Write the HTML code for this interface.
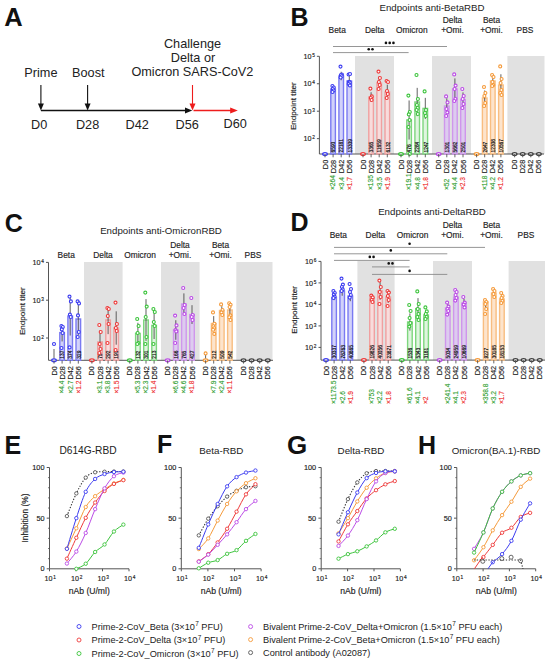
<!DOCTYPE html>
<html><head><meta charset="utf-8"><style>
html,body{margin:0;padding:0;background:#fff;}
svg{display:block;font-family:"Liberation Sans", sans-serif;}
</style></head><body>
<svg width="550" height="662" viewBox="0 0 550 662">
<rect width="550" height="662" fill="#fff"/>
<text x="4.30" y="26.20" font-size="25.5" text-anchor="start" fill="#111" font-weight="bold">A</text>
<text x="192.50" y="47.80" font-size="12.7" text-anchor="middle" fill="#222">Challenge</text>
<text x="193.00" y="61.80" font-size="12.7" text-anchor="middle" fill="#222">Delta or</text>
<text x="192.40" y="76.40" font-size="12.7" text-anchor="middle" fill="#222">Omicron SARS-CoV2</text>
<text x="40.90" y="77.30" font-size="12.7" text-anchor="middle" fill="#222">Prime</text>
<text x="88.30" y="77.30" font-size="12.7" text-anchor="middle" fill="#222">Boost</text>
<line x1="40.90" y1="85.00" x2="40.90" y2="105.50" stroke="#111" stroke-width="1.1"/>
<path d="M37.90,103.50 L43.90,103.50 L40.90,110.50 Z" fill="#111" stroke="none" stroke-width="1"/>
<line x1="87.60" y1="85.00" x2="87.60" y2="105.50" stroke="#111" stroke-width="1.1"/>
<path d="M84.60,103.50 L90.60,103.50 L87.60,110.50 Z" fill="#111" stroke="none" stroke-width="1"/>
<line x1="192.50" y1="85.00" x2="192.50" y2="105.50" stroke="#ee1c1c" stroke-width="1.1"/>
<path d="M189.50,103.50 L195.50,103.50 L192.50,110.50 Z" fill="#ee1c1c" stroke="none" stroke-width="1"/>
<line x1="40.90" y1="110.50" x2="186.00" y2="110.50" stroke="#111" stroke-width="1.7"/>
<path d="M185,107.6 L192.3,110.5 L185,113.4 Z" fill="#111" stroke="none" stroke-width="1"/>
<line x1="193.50" y1="110.50" x2="231.00" y2="110.50" stroke="#ee1c1c" stroke-width="1.7"/>
<path d="M230.2,107.6 L237.8,110.5 L230.2,113.4 Z" fill="#ee1c1c" stroke="none" stroke-width="1"/>
<text x="39.10" y="128.80" font-size="12.7" text-anchor="middle" fill="#222">D0</text>
<text x="87.60" y="128.80" font-size="12.7" text-anchor="middle" fill="#222">D28</text>
<text x="137.20" y="128.80" font-size="12.7" text-anchor="middle" fill="#222">D42</text>
<text x="187.20" y="128.80" font-size="12.7" text-anchor="middle" fill="#222">D56</text>
<text x="235.20" y="127.50" font-size="12.7" text-anchor="middle" fill="#222">D60</text>
<rect x="355.00" y="56.00" width="39.00" height="98.00" fill="#e1e1e1" stroke="none" stroke-width="0"/>
<rect x="432.00" y="56.00" width="39.00" height="98.00" fill="#e1e1e1" stroke="none" stroke-width="0"/>
<rect x="507.40" y="56.00" width="37.10" height="98.00" fill="#e1e1e1" stroke="none" stroke-width="0"/>
<line x1="333.00" y1="46.50" x2="447.00" y2="46.50" stroke="#8a8a8a" stroke-width="0.9"/>
<circle cx="385.95" cy="42.90" r="1.3" fill="#111" stroke="none" stroke-width="0"/>
<circle cx="389.70" cy="42.90" r="1.3" fill="#111" stroke="none" stroke-width="0"/>
<circle cx="393.45" cy="42.90" r="1.3" fill="#111" stroke="none" stroke-width="0"/>
<line x1="333.00" y1="52.60" x2="408.60" y2="52.60" stroke="#8a8a8a" stroke-width="0.9"/>
<circle cx="368.73" cy="49.30" r="1.3" fill="#111" stroke="none" stroke-width="0"/>
<circle cx="372.48" cy="49.30" r="1.3" fill="#111" stroke="none" stroke-width="0"/>
<line x1="319.40" y1="56.30" x2="319.40" y2="154.00" stroke="#555" stroke-width="1"/>
<line x1="319.40" y1="154.00" x2="544.00" y2="154.00" stroke="#555" stroke-width="1"/>
<ellipse cx="325.00" cy="154.00" rx="2.3" ry="1.45" fill="white" stroke="#3c3cf0" stroke-width="1.35"/>
<rect x="330.80" y="89.00" width="4.60" height="65.00" fill="#d2d2fa" stroke="#7a7af2" stroke-width="1.4"/>
<text x="335.40" y="152.40" font-size="4.8" text-anchor="start" fill="#111" transform="rotate(-90 335.40000000000003 152.4)" stroke="#111" stroke-width="0.18">6590</text>
<line x1="333.10" y1="87.00" x2="333.10" y2="91.50" stroke="#444" stroke-width="0.85"/>
<circle cx="332.40" cy="86.00" r="1.5" fill="#fff" stroke="#3c3cf0" stroke-width="1.1"/>
<circle cx="333.80" cy="87.50" r="1.5" fill="#fff" stroke="#3c3cf0" stroke-width="1.1"/>
<circle cx="332.80" cy="89.00" r="1.5" fill="#fff" stroke="#3c3cf0" stroke-width="1.1"/>
<circle cx="333.60" cy="90.50" r="1.5" fill="#fff" stroke="#3c3cf0" stroke-width="1.1"/>
<circle cx="332.50" cy="92.00" r="1.5" fill="#fff" stroke="#3c3cf0" stroke-width="1.1"/>
<rect x="338.90" y="76.00" width="4.60" height="78.00" fill="#d2d2fa" stroke="#7a7af2" stroke-width="1.4"/>
<text x="343.50" y="152.40" font-size="4.8" text-anchor="start" fill="#111" transform="rotate(-90 343.5 152.4)" stroke="#111" stroke-width="0.18">22181</text>
<line x1="341.20" y1="71.78" x2="341.20" y2="80.22" stroke="#444" stroke-width="0.85"/>
<circle cx="340.50" cy="66.60" r="1.5" fill="#fff" stroke="#3c3cf0" stroke-width="1.1"/>
<circle cx="341.90" cy="74.50" r="1.5" fill="#fff" stroke="#3c3cf0" stroke-width="1.1"/>
<circle cx="340.90" cy="75.00" r="1.5" fill="#fff" stroke="#3c3cf0" stroke-width="1.1"/>
<circle cx="341.70" cy="76.30" r="1.5" fill="#fff" stroke="#3c3cf0" stroke-width="1.1"/>
<circle cx="340.60" cy="77.50" r="1.5" fill="#fff" stroke="#3c3cf0" stroke-width="1.1"/>
<rect x="347.00" y="81.00" width="4.60" height="73.00" fill="#d2d2fa" stroke="#7a7af2" stroke-width="1.4"/>
<text x="351.60" y="152.40" font-size="4.8" text-anchor="start" fill="#111" transform="rotate(-90 351.6 152.4)" stroke="#111" stroke-width="0.18">13309</text>
<line x1="349.30" y1="76.09" x2="349.30" y2="85.91" stroke="#444" stroke-width="0.85"/>
<circle cx="348.60" cy="74.50" r="1.5" fill="#fff" stroke="#3c3cf0" stroke-width="1.1"/>
<circle cx="350.00" cy="74.00" r="1.5" fill="#fff" stroke="#3c3cf0" stroke-width="1.1"/>
<circle cx="349.00" cy="81.80" r="1.5" fill="#fff" stroke="#3c3cf0" stroke-width="1.1"/>
<circle cx="349.80" cy="82.40" r="1.5" fill="#fff" stroke="#3c3cf0" stroke-width="1.1"/>
<circle cx="348.70" cy="84.00" r="1.5" fill="#fff" stroke="#3c3cf0" stroke-width="1.1"/>
<circle cx="349.90" cy="85.40" r="1.5" fill="#fff" stroke="#3c3cf0" stroke-width="1.1"/>
<ellipse cx="363.00" cy="154.00" rx="2.3" ry="1.45" fill="white" stroke="#ee3a3a" stroke-width="1.35"/>
<rect x="368.80" y="97.00" width="4.60" height="57.00" fill="#f8dcdc" stroke="#f0a0a0" stroke-width="1.4"/>
<text x="373.40" y="152.40" font-size="4.8" text-anchor="start" fill="#111" transform="rotate(-90 373.40000000000003 152.4)" stroke="#111" stroke-width="0.18">3365</text>
<line x1="371.10" y1="92.25" x2="371.10" y2="101.75" stroke="#444" stroke-width="0.85"/>
<circle cx="370.40" cy="88.60" r="1.5" fill="#fff" stroke="#ee3a3a" stroke-width="1.1"/>
<circle cx="371.80" cy="96.40" r="1.5" fill="#fff" stroke="#ee3a3a" stroke-width="1.1"/>
<circle cx="370.80" cy="98.00" r="1.5" fill="#fff" stroke="#ee3a3a" stroke-width="1.1"/>
<circle cx="371.60" cy="100.00" r="1.5" fill="#fff" stroke="#ee3a3a" stroke-width="1.1"/>
<rect x="376.90" y="83.00" width="4.60" height="71.00" fill="#f8dcdc" stroke="#f0a0a0" stroke-width="1.4"/>
<text x="381.50" y="152.40" font-size="4.8" text-anchor="start" fill="#111" transform="rotate(-90 381.5 152.4)" stroke="#111" stroke-width="0.18">11659</text>
<line x1="379.20" y1="76.43" x2="379.20" y2="89.57" stroke="#444" stroke-width="0.85"/>
<circle cx="378.50" cy="71.60" r="1.5" fill="#fff" stroke="#ee3a3a" stroke-width="1.1"/>
<circle cx="379.90" cy="78.00" r="1.5" fill="#fff" stroke="#ee3a3a" stroke-width="1.1"/>
<circle cx="378.90" cy="82.00" r="1.5" fill="#fff" stroke="#ee3a3a" stroke-width="1.1"/>
<circle cx="379.70" cy="85.00" r="1.5" fill="#fff" stroke="#ee3a3a" stroke-width="1.1"/>
<circle cx="378.60" cy="89.00" r="1.5" fill="#fff" stroke="#ee3a3a" stroke-width="1.1"/>
<rect x="385.00" y="92.00" width="4.60" height="62.00" fill="#f8dcdc" stroke="#f0a0a0" stroke-width="1.4"/>
<text x="389.60" y="152.40" font-size="4.8" text-anchor="start" fill="#111" transform="rotate(-90 389.6 152.4)" stroke="#111" stroke-width="0.18">6132</text>
<line x1="387.30" y1="84.66" x2="387.30" y2="99.34" stroke="#444" stroke-width="0.85"/>
<circle cx="386.60" cy="81.00" r="1.5" fill="#fff" stroke="#ee3a3a" stroke-width="1.1"/>
<circle cx="388.00" cy="82.00" r="1.5" fill="#fff" stroke="#ee3a3a" stroke-width="1.1"/>
<circle cx="387.00" cy="91.00" r="1.5" fill="#fff" stroke="#ee3a3a" stroke-width="1.1"/>
<circle cx="387.80" cy="94.00" r="1.5" fill="#fff" stroke="#ee3a3a" stroke-width="1.1"/>
<circle cx="386.70" cy="98.00" r="1.5" fill="#fff" stroke="#ee3a3a" stroke-width="1.1"/>
<ellipse cx="401.00" cy="154.00" rx="2.3" ry="1.45" fill="white" stroke="#3cc43c" stroke-width="1.35"/>
<rect x="406.80" y="120.00" width="4.60" height="34.00" fill="#e0f5e0" stroke="#7ed67e" stroke-width="1.4"/>
<text x="411.40" y="152.40" font-size="4.8" text-anchor="start" fill="#111" transform="rotate(-90 411.40000000000003 152.4)" stroke="#111" stroke-width="0.18">476</text>
<line x1="409.10" y1="100.46" x2="409.10" y2="139.54" stroke="#444" stroke-width="0.85"/>
<circle cx="408.40" cy="95.60" r="1.5" fill="#fff" stroke="#3cc43c" stroke-width="1.1"/>
<circle cx="409.80" cy="112.00" r="1.5" fill="#fff" stroke="#3cc43c" stroke-width="1.1"/>
<circle cx="408.80" cy="114.40" r="1.5" fill="#fff" stroke="#3cc43c" stroke-width="1.1"/>
<circle cx="409.60" cy="120.00" r="1.5" fill="#fff" stroke="#3cc43c" stroke-width="1.1"/>
<circle cx="408.50" cy="127.00" r="1.5" fill="#fff" stroke="#3cc43c" stroke-width="1.1"/>
<circle cx="409.70" cy="154.00" r="1.5" fill="#fff" stroke="#3cc43c" stroke-width="1.1"/>
<rect x="414.90" y="102.00" width="4.60" height="52.00" fill="#e0f5e0" stroke="#7ed67e" stroke-width="1.4"/>
<text x="419.50" y="152.40" font-size="4.8" text-anchor="start" fill="#111" transform="rotate(-90 419.5 152.4)" stroke="#111" stroke-width="0.18">2284</text>
<line x1="417.20" y1="87.86" x2="417.20" y2="116.14" stroke="#444" stroke-width="0.85"/>
<circle cx="416.50" cy="75.00" r="1.5" fill="#fff" stroke="#3cc43c" stroke-width="1.1"/>
<circle cx="417.90" cy="99.00" r="1.5" fill="#fff" stroke="#3cc43c" stroke-width="1.1"/>
<circle cx="416.90" cy="105.00" r="1.5" fill="#fff" stroke="#3cc43c" stroke-width="1.1"/>
<circle cx="417.70" cy="108.00" r="1.5" fill="#fff" stroke="#3cc43c" stroke-width="1.1"/>
<circle cx="416.60" cy="110.00" r="1.5" fill="#fff" stroke="#3cc43c" stroke-width="1.1"/>
<circle cx="417.80" cy="114.00" r="1.5" fill="#fff" stroke="#3cc43c" stroke-width="1.1"/>
<rect x="423.00" y="108.40" width="4.60" height="45.60" fill="#e0f5e0" stroke="#7ed67e" stroke-width="1.4"/>
<text x="427.60" y="152.40" font-size="4.8" text-anchor="start" fill="#111" transform="rotate(-90 427.6 152.4)" stroke="#111" stroke-width="0.18">1247</text>
<line x1="425.30" y1="97.85" x2="425.30" y2="118.95" stroke="#444" stroke-width="0.85"/>
<circle cx="424.60" cy="91.40" r="1.5" fill="#fff" stroke="#3cc43c" stroke-width="1.1"/>
<circle cx="426.00" cy="110.00" r="1.5" fill="#fff" stroke="#3cc43c" stroke-width="1.1"/>
<circle cx="425.00" cy="113.00" r="1.5" fill="#fff" stroke="#3cc43c" stroke-width="1.1"/>
<circle cx="425.80" cy="116.00" r="1.5" fill="#fff" stroke="#3cc43c" stroke-width="1.1"/>
<ellipse cx="438.70" cy="154.00" rx="2.3" ry="1.45" fill="white" stroke="#bb4be6" stroke-width="1.35"/>
<rect x="444.50" y="106.00" width="4.60" height="48.00" fill="#ddcbef" stroke="#cf96ec" stroke-width="1.4"/>
<text x="449.10" y="152.40" font-size="4.8" text-anchor="start" fill="#111" transform="rotate(-90 449.1 152.4)" stroke="#111" stroke-width="0.18">1301</text>
<line x1="446.80" y1="98.26" x2="446.80" y2="113.74" stroke="#444" stroke-width="0.85"/>
<circle cx="446.10" cy="96.40" r="1.5" fill="#fff" stroke="#bb4be6" stroke-width="1.1"/>
<circle cx="447.50" cy="102.40" r="1.5" fill="#fff" stroke="#bb4be6" stroke-width="1.1"/>
<circle cx="446.50" cy="109.00" r="1.5" fill="#fff" stroke="#bb4be6" stroke-width="1.1"/>
<circle cx="447.30" cy="112.40" r="1.5" fill="#fff" stroke="#bb4be6" stroke-width="1.1"/>
<circle cx="446.20" cy="116.00" r="1.5" fill="#fff" stroke="#bb4be6" stroke-width="1.1"/>
<rect x="452.60" y="89.00" width="4.60" height="65.00" fill="#ddcbef" stroke="#cf96ec" stroke-width="1.4"/>
<text x="457.20" y="152.40" font-size="4.8" text-anchor="start" fill="#111" transform="rotate(-90 457.2 152.4)" stroke="#111" stroke-width="0.18">5662</text>
<line x1="454.90" y1="78.39" x2="454.90" y2="99.61" stroke="#444" stroke-width="0.85"/>
<circle cx="454.20" cy="74.40" r="1.5" fill="#fff" stroke="#bb4be6" stroke-width="1.1"/>
<circle cx="455.60" cy="85.60" r="1.5" fill="#fff" stroke="#bb4be6" stroke-width="1.1"/>
<circle cx="454.60" cy="89.00" r="1.5" fill="#fff" stroke="#bb4be6" stroke-width="1.1"/>
<circle cx="455.40" cy="99.00" r="1.5" fill="#fff" stroke="#bb4be6" stroke-width="1.1"/>
<circle cx="454.30" cy="101.00" r="1.5" fill="#fff" stroke="#bb4be6" stroke-width="1.1"/>
<rect x="460.70" y="99.60" width="4.60" height="54.40" fill="#ddcbef" stroke="#cf96ec" stroke-width="1.4"/>
<text x="465.30" y="152.40" font-size="4.8" text-anchor="start" fill="#111" transform="rotate(-90 465.3 152.4)" stroke="#111" stroke-width="0.18">2501</text>
<line x1="463.00" y1="92.39" x2="463.00" y2="106.81" stroke="#444" stroke-width="0.85"/>
<circle cx="462.30" cy="89.00" r="1.5" fill="#fff" stroke="#bb4be6" stroke-width="1.1"/>
<circle cx="463.70" cy="96.00" r="1.5" fill="#fff" stroke="#bb4be6" stroke-width="1.1"/>
<circle cx="462.70" cy="99.00" r="1.5" fill="#fff" stroke="#bb4be6" stroke-width="1.1"/>
<circle cx="463.50" cy="104.00" r="1.5" fill="#fff" stroke="#bb4be6" stroke-width="1.1"/>
<circle cx="462.40" cy="108.00" r="1.5" fill="#fff" stroke="#bb4be6" stroke-width="1.1"/>
<ellipse cx="476.60" cy="154.00" rx="2.3" ry="1.45" fill="white" stroke="#f59a3a" stroke-width="1.35"/>
<rect x="482.40" y="98.00" width="4.60" height="56.00" fill="#fde4cc" stroke="#f8bd80" stroke-width="1.4"/>
<text x="487.00" y="152.40" font-size="4.8" text-anchor="start" fill="#111" transform="rotate(-90 487.00000000000006 152.4)" stroke="#111" stroke-width="0.18">2647</text>
<line x1="484.70" y1="90.47" x2="484.70" y2="105.53" stroke="#444" stroke-width="0.85"/>
<circle cx="484.00" cy="87.00" r="1.5" fill="#fff" stroke="#f59a3a" stroke-width="1.1"/>
<circle cx="485.40" cy="93.00" r="1.5" fill="#fff" stroke="#f59a3a" stroke-width="1.1"/>
<circle cx="484.40" cy="96.00" r="1.5" fill="#fff" stroke="#f59a3a" stroke-width="1.1"/>
<circle cx="485.20" cy="103.00" r="1.5" fill="#fff" stroke="#f59a3a" stroke-width="1.1"/>
<circle cx="484.10" cy="106.00" r="1.5" fill="#fff" stroke="#f59a3a" stroke-width="1.1"/>
<rect x="490.50" y="81.00" width="4.60" height="73.00" fill="#fde4cc" stroke="#f8bd80" stroke-width="1.4"/>
<text x="495.10" y="152.40" font-size="4.8" text-anchor="start" fill="#111" transform="rotate(-90 495.1 152.4)" stroke="#111" stroke-width="0.18">12308</text>
<line x1="492.80" y1="76.23" x2="492.80" y2="85.77" stroke="#444" stroke-width="0.85"/>
<circle cx="492.10" cy="75.00" r="1.5" fill="#fff" stroke="#f59a3a" stroke-width="1.1"/>
<circle cx="493.50" cy="77.00" r="1.5" fill="#fff" stroke="#f59a3a" stroke-width="1.1"/>
<circle cx="492.50" cy="82.00" r="1.5" fill="#fff" stroke="#f59a3a" stroke-width="1.1"/>
<circle cx="493.30" cy="85.00" r="1.5" fill="#fff" stroke="#f59a3a" stroke-width="1.1"/>
<circle cx="492.20" cy="86.00" r="1.5" fill="#fff" stroke="#f59a3a" stroke-width="1.1"/>
<rect x="498.60" y="85.00" width="4.60" height="69.00" fill="#fde4cc" stroke="#f8bd80" stroke-width="1.4"/>
<text x="503.20" y="152.40" font-size="4.8" text-anchor="start" fill="#111" transform="rotate(-90 503.20000000000005 152.4)" stroke="#111" stroke-width="0.18">10567</text>
<line x1="500.90" y1="74.25" x2="500.90" y2="95.75" stroke="#444" stroke-width="0.85"/>
<circle cx="500.20" cy="66.40" r="1.5" fill="#fff" stroke="#f59a3a" stroke-width="1.1"/>
<circle cx="501.60" cy="79.00" r="1.5" fill="#fff" stroke="#f59a3a" stroke-width="1.1"/>
<circle cx="500.60" cy="83.00" r="1.5" fill="#fff" stroke="#f59a3a" stroke-width="1.1"/>
<circle cx="501.40" cy="90.00" r="1.5" fill="#fff" stroke="#f59a3a" stroke-width="1.1"/>
<circle cx="500.30" cy="93.00" r="1.5" fill="#fff" stroke="#f59a3a" stroke-width="1.1"/>
<circle cx="501.50" cy="95.00" r="1.5" fill="#fff" stroke="#f59a3a" stroke-width="1.1"/>
<ellipse cx="514.60" cy="154.00" rx="2.3" ry="1.45" fill="white" stroke="#404040" stroke-width="1.35"/>
<rect x="520.40" y="154.00" width="4.60" height="0.00" fill="#dddddd" stroke="#777" stroke-width="1.4"/>
<ellipse cx="522.70" cy="154.00" rx="2.3" ry="1.45" fill="white" stroke="#404040" stroke-width="1.35"/>
<rect x="528.50" y="154.00" width="4.60" height="0.00" fill="#dddddd" stroke="#777" stroke-width="1.4"/>
<ellipse cx="530.80" cy="154.00" rx="2.3" ry="1.45" fill="white" stroke="#404040" stroke-width="1.35"/>
<rect x="536.60" y="154.00" width="4.60" height="0.00" fill="#dddddd" stroke="#777" stroke-width="1.4"/>
<ellipse cx="538.90" cy="154.00" rx="2.3" ry="1.45" fill="white" stroke="#404040" stroke-width="1.35"/>
<line x1="316.90" y1="56.30" x2="319.40" y2="56.30" stroke="#555" stroke-width="1"/>
<text x="314.80" y="58.90" font-size="7.2" text-anchor="end" fill="#222" stroke="#222" stroke-width="0.15">10<tspan font-size="4.75" dx="0.72" dy="-1.87">5</tspan></text>
<line x1="316.90" y1="83.75" x2="319.40" y2="83.75" stroke="#555" stroke-width="1"/>
<text x="314.80" y="86.35" font-size="7.2" text-anchor="end" fill="#222" stroke="#222" stroke-width="0.15">10<tspan font-size="4.75" dx="0.72" dy="-1.87">4</tspan></text>
<line x1="316.90" y1="111.20" x2="319.40" y2="111.20" stroke="#555" stroke-width="1"/>
<text x="314.80" y="113.80" font-size="7.2" text-anchor="end" fill="#222" stroke="#222" stroke-width="0.15">10<tspan font-size="4.75" dx="0.72" dy="-1.87">3</tspan></text>
<line x1="316.90" y1="138.65" x2="319.40" y2="138.65" stroke="#555" stroke-width="1"/>
<text x="314.80" y="141.25" font-size="7.2" text-anchor="end" fill="#222" stroke="#222" stroke-width="0.15">10<tspan font-size="4.75" dx="0.72" dy="-1.87">2</tspan></text>
<line x1="325.00" y1="154.00" x2="325.00" y2="157.30" stroke="#555" stroke-width="0.9"/>
<text x="327.60" y="159.80" font-size="7.3" text-anchor="end" fill="#222" transform="rotate(-90 327.6 159.8)" stroke="#222" stroke-width="0.15">D0</text>
<line x1="333.10" y1="154.00" x2="333.10" y2="157.30" stroke="#555" stroke-width="0.9"/>
<text x="335.70" y="159.80" font-size="7.3" text-anchor="end" fill="#222" transform="rotate(-90 335.70000000000005 159.8)" stroke="#222" stroke-width="0.15">D28</text>
<line x1="341.20" y1="154.00" x2="341.20" y2="157.30" stroke="#555" stroke-width="0.9"/>
<text x="343.80" y="159.80" font-size="7.3" text-anchor="end" fill="#222" transform="rotate(-90 343.8 159.8)" stroke="#222" stroke-width="0.15">D42</text>
<line x1="349.30" y1="154.00" x2="349.30" y2="157.30" stroke="#555" stroke-width="0.9"/>
<text x="351.90" y="159.80" font-size="7.3" text-anchor="end" fill="#222" transform="rotate(-90 351.90000000000003 159.8)" stroke="#222" stroke-width="0.15">D56</text>
<text x="335.40" y="190.00" font-size="6.6" text-anchor="start" fill="#2f9e2f" transform="rotate(-90 335.40000000000003 190)" stroke="#2f9e2f" stroke-width="0.15">×264</text>
<text x="343.50" y="190.00" font-size="6.6" text-anchor="start" fill="#2f9e2f" transform="rotate(-90 343.5 190)" stroke="#2f9e2f" stroke-width="0.15">×3.4</text>
<text x="351.60" y="190.00" font-size="6.6" text-anchor="start" fill="#ee2b2b" transform="rotate(-90 351.6 190)" stroke="#ee2b2b" stroke-width="0.15">×1.7</text>
<line x1="363.00" y1="154.00" x2="363.00" y2="157.30" stroke="#555" stroke-width="0.9"/>
<text x="365.60" y="159.80" font-size="7.3" text-anchor="end" fill="#222" transform="rotate(-90 365.6 159.8)" stroke="#222" stroke-width="0.15">D0</text>
<line x1="371.10" y1="154.00" x2="371.10" y2="157.30" stroke="#555" stroke-width="0.9"/>
<text x="373.70" y="159.80" font-size="7.3" text-anchor="end" fill="#222" transform="rotate(-90 373.70000000000005 159.8)" stroke="#222" stroke-width="0.15">D28</text>
<line x1="379.20" y1="154.00" x2="379.20" y2="157.30" stroke="#555" stroke-width="0.9"/>
<text x="381.80" y="159.80" font-size="7.3" text-anchor="end" fill="#222" transform="rotate(-90 381.8 159.8)" stroke="#222" stroke-width="0.15">D42</text>
<line x1="387.30" y1="154.00" x2="387.30" y2="157.30" stroke="#555" stroke-width="0.9"/>
<text x="389.90" y="159.80" font-size="7.3" text-anchor="end" fill="#222" transform="rotate(-90 389.90000000000003 159.8)" stroke="#222" stroke-width="0.15">D56</text>
<text x="373.40" y="190.00" font-size="6.6" text-anchor="start" fill="#2f9e2f" transform="rotate(-90 373.40000000000003 190)" stroke="#2f9e2f" stroke-width="0.15">×135</text>
<text x="381.50" y="190.00" font-size="6.6" text-anchor="start" fill="#2f9e2f" transform="rotate(-90 381.5 190)" stroke="#2f9e2f" stroke-width="0.15">×3.5</text>
<text x="389.60" y="190.00" font-size="6.6" text-anchor="start" fill="#ee2b2b" transform="rotate(-90 389.6 190)" stroke="#ee2b2b" stroke-width="0.15">×1.9</text>
<line x1="401.00" y1="154.00" x2="401.00" y2="157.30" stroke="#555" stroke-width="0.9"/>
<text x="403.60" y="159.80" font-size="7.3" text-anchor="end" fill="#222" transform="rotate(-90 403.6 159.8)" stroke="#222" stroke-width="0.15">D0</text>
<line x1="409.10" y1="154.00" x2="409.10" y2="157.30" stroke="#555" stroke-width="0.9"/>
<text x="411.70" y="159.80" font-size="7.3" text-anchor="end" fill="#222" transform="rotate(-90 411.70000000000005 159.8)" stroke="#222" stroke-width="0.15">D28</text>
<line x1="417.20" y1="154.00" x2="417.20" y2="157.30" stroke="#555" stroke-width="0.9"/>
<text x="419.80" y="159.80" font-size="7.3" text-anchor="end" fill="#222" transform="rotate(-90 419.8 159.8)" stroke="#222" stroke-width="0.15">D42</text>
<line x1="425.30" y1="154.00" x2="425.30" y2="157.30" stroke="#555" stroke-width="0.9"/>
<text x="427.90" y="159.80" font-size="7.3" text-anchor="end" fill="#222" transform="rotate(-90 427.90000000000003 159.8)" stroke="#222" stroke-width="0.15">D56</text>
<text x="411.40" y="190.00" font-size="6.6" text-anchor="start" fill="#2f9e2f" transform="rotate(-90 411.40000000000003 190)" stroke="#2f9e2f" stroke-width="0.15">×19.1</text>
<text x="419.50" y="190.00" font-size="6.6" text-anchor="start" fill="#2f9e2f" transform="rotate(-90 419.5 190)" stroke="#2f9e2f" stroke-width="0.15">×4.8</text>
<text x="427.60" y="190.00" font-size="6.6" text-anchor="start" fill="#ee2b2b" transform="rotate(-90 427.6 190)" stroke="#ee2b2b" stroke-width="0.15">×1.8</text>
<line x1="438.70" y1="154.00" x2="438.70" y2="157.30" stroke="#555" stroke-width="0.9"/>
<text x="441.30" y="159.80" font-size="7.3" text-anchor="end" fill="#222" transform="rotate(-90 441.3 159.8)" stroke="#222" stroke-width="0.15">D0</text>
<line x1="446.80" y1="154.00" x2="446.80" y2="157.30" stroke="#555" stroke-width="0.9"/>
<text x="449.40" y="159.80" font-size="7.3" text-anchor="end" fill="#222" transform="rotate(-90 449.40000000000003 159.8)" stroke="#222" stroke-width="0.15">D28</text>
<line x1="454.90" y1="154.00" x2="454.90" y2="157.30" stroke="#555" stroke-width="0.9"/>
<text x="457.50" y="159.80" font-size="7.3" text-anchor="end" fill="#222" transform="rotate(-90 457.5 159.8)" stroke="#222" stroke-width="0.15">D42</text>
<line x1="463.00" y1="154.00" x2="463.00" y2="157.30" stroke="#555" stroke-width="0.9"/>
<text x="465.60" y="159.80" font-size="7.3" text-anchor="end" fill="#222" transform="rotate(-90 465.6 159.8)" stroke="#222" stroke-width="0.15">D56</text>
<text x="449.10" y="190.00" font-size="6.6" text-anchor="start" fill="#2f9e2f" transform="rotate(-90 449.1 190)" stroke="#2f9e2f" stroke-width="0.15">×52</text>
<text x="457.20" y="190.00" font-size="6.6" text-anchor="start" fill="#2f9e2f" transform="rotate(-90 457.2 190)" stroke="#2f9e2f" stroke-width="0.15">×4.4</text>
<text x="465.30" y="190.00" font-size="6.6" text-anchor="start" fill="#ee2b2b" transform="rotate(-90 465.3 190)" stroke="#ee2b2b" stroke-width="0.15">×2.3</text>
<line x1="476.60" y1="154.00" x2="476.60" y2="157.30" stroke="#555" stroke-width="0.9"/>
<text x="479.20" y="159.80" font-size="7.3" text-anchor="end" fill="#222" transform="rotate(-90 479.20000000000005 159.8)" stroke="#222" stroke-width="0.15">D0</text>
<line x1="484.70" y1="154.00" x2="484.70" y2="157.30" stroke="#555" stroke-width="0.9"/>
<text x="487.30" y="159.80" font-size="7.3" text-anchor="end" fill="#222" transform="rotate(-90 487.30000000000007 159.8)" stroke="#222" stroke-width="0.15">D28</text>
<line x1="492.80" y1="154.00" x2="492.80" y2="157.30" stroke="#555" stroke-width="0.9"/>
<text x="495.40" y="159.80" font-size="7.3" text-anchor="end" fill="#222" transform="rotate(-90 495.40000000000003 159.8)" stroke="#222" stroke-width="0.15">D42</text>
<line x1="500.90" y1="154.00" x2="500.90" y2="157.30" stroke="#555" stroke-width="0.9"/>
<text x="503.50" y="159.80" font-size="7.3" text-anchor="end" fill="#222" transform="rotate(-90 503.50000000000006 159.8)" stroke="#222" stroke-width="0.15">D56</text>
<text x="487.00" y="190.00" font-size="6.6" text-anchor="start" fill="#2f9e2f" transform="rotate(-90 487.00000000000006 190)" stroke="#2f9e2f" stroke-width="0.15">×118</text>
<text x="495.10" y="190.00" font-size="6.6" text-anchor="start" fill="#2f9e2f" transform="rotate(-90 495.1 190)" stroke="#2f9e2f" stroke-width="0.15">×4.2</text>
<text x="503.20" y="190.00" font-size="6.6" text-anchor="start" fill="#ee2b2b" transform="rotate(-90 503.20000000000005 190)" stroke="#ee2b2b" stroke-width="0.15">×1.2</text>
<line x1="514.60" y1="154.00" x2="514.60" y2="157.30" stroke="#555" stroke-width="0.9"/>
<text x="517.20" y="159.80" font-size="7.3" text-anchor="end" fill="#222" transform="rotate(-90 517.2 159.8)" stroke="#222" stroke-width="0.15">D0</text>
<line x1="522.70" y1="154.00" x2="522.70" y2="157.30" stroke="#555" stroke-width="0.9"/>
<text x="525.30" y="159.80" font-size="7.3" text-anchor="end" fill="#222" transform="rotate(-90 525.3000000000001 159.8)" stroke="#222" stroke-width="0.15">D28</text>
<line x1="530.80" y1="154.00" x2="530.80" y2="157.30" stroke="#555" stroke-width="0.9"/>
<text x="533.40" y="159.80" font-size="7.3" text-anchor="end" fill="#222" transform="rotate(-90 533.4000000000001 159.8)" stroke="#222" stroke-width="0.15">D42</text>
<line x1="538.90" y1="154.00" x2="538.90" y2="157.30" stroke="#555" stroke-width="0.9"/>
<text x="541.50" y="159.80" font-size="7.3" text-anchor="end" fill="#222" transform="rotate(-90 541.5 159.8)" stroke="#222" stroke-width="0.15">D56</text>
<text x="337.20" y="33.20" font-size="8.4" text-anchor="middle" fill="#222" stroke="#222" stroke-width="0.15">Beta</text>
<text x="374.70" y="33.20" font-size="8.4" text-anchor="middle" fill="#222" stroke="#222" stroke-width="0.15">Delta</text>
<text x="411.80" y="33.20" font-size="8.4" text-anchor="middle" fill="#222" stroke="#222" stroke-width="0.15">Omicron</text>
<text x="452.50" y="23.00" font-size="8.4" text-anchor="middle" fill="#222" stroke="#222" stroke-width="0.15">Delta</text>
<text x="452.50" y="32.80" font-size="8.4" text-anchor="middle" fill="#222" stroke="#222" stroke-width="0.15">+Omi.</text>
<text x="491.50" y="23.00" font-size="8.4" text-anchor="middle" fill="#222" stroke="#222" stroke-width="0.15">Beta</text>
<text x="491.50" y="32.80" font-size="8.4" text-anchor="middle" fill="#222" stroke="#222" stroke-width="0.15">+Omi.</text>
<text x="525.00" y="33.20" font-size="8.4" text-anchor="middle" fill="#222" stroke="#222" stroke-width="0.15">PBS</text>
<text x="432.00" y="11.40" font-size="9.7" text-anchor="middle" fill="#222">Endpoints anti-BetaRBD</text>
<text x="290.50" y="26.20" font-size="25" text-anchor="start" fill="#111" font-weight="bold">B</text>
<text x="296.20" y="106.20" font-size="8.1" text-anchor="middle" fill="#222" transform="rotate(-90 296.2 106.2)" stroke="#222" stroke-width="0.15">Endpoint titer</text>
<rect x="84.00" y="262.00" width="38.60" height="98.30" fill="#e1e1e1" stroke="none" stroke-width="0"/>
<rect x="161.00" y="262.00" width="38.60" height="98.30" fill="#e1e1e1" stroke="none" stroke-width="0"/>
<rect x="236.30" y="262.00" width="36.20" height="98.30" fill="#e1e1e1" stroke="none" stroke-width="0"/>
<line x1="48.50" y1="262.40" x2="48.50" y2="360.30" stroke="#555" stroke-width="1"/>
<line x1="48.50" y1="360.30" x2="273.00" y2="360.30" stroke="#555" stroke-width="1"/>
<line x1="54.00" y1="349.00" x2="54.00" y2="360.30" stroke="#444" stroke-width="0.85"/>
<ellipse cx="54.00" cy="360.30" rx="2.3" ry="1.45" fill="white" stroke="#3c3cf0" stroke-width="1.35"/>
<circle cx="54.00" cy="344.00" r="1.5" fill="#fff" stroke="#3c3cf0" stroke-width="1.1"/>
<rect x="59.80" y="332.60" width="4.60" height="27.70" fill="#d2d2fa" stroke="#7a7af2" stroke-width="1.4"/>
<text x="64.40" y="358.70" font-size="4.8" text-anchor="start" fill="#111" transform="rotate(-90 64.4 358.7)" stroke="#111" stroke-width="0.18">137</text>
<line x1="62.10" y1="327.00" x2="62.10" y2="341.43" stroke="#444" stroke-width="0.85"/>
<circle cx="61.40" cy="326.00" r="1.5" fill="#fff" stroke="#3c3cf0" stroke-width="1.1"/>
<circle cx="62.80" cy="327.00" r="1.5" fill="#fff" stroke="#3c3cf0" stroke-width="1.1"/>
<circle cx="61.80" cy="329.40" r="1.5" fill="#fff" stroke="#3c3cf0" stroke-width="1.1"/>
<circle cx="62.60" cy="333.00" r="1.5" fill="#fff" stroke="#3c3cf0" stroke-width="1.1"/>
<circle cx="61.50" cy="348.00" r="1.5" fill="#fff" stroke="#3c3cf0" stroke-width="1.1"/>
<rect x="67.90" y="316.00" width="4.60" height="44.30" fill="#d2d2fa" stroke="#7a7af2" stroke-width="1.4"/>
<text x="72.50" y="358.70" font-size="4.8" text-anchor="start" fill="#111" transform="rotate(-90 72.5 358.7)" stroke="#111" stroke-width="0.18">374</text>
<line x1="70.20" y1="297.60" x2="70.20" y2="335.53" stroke="#444" stroke-width="0.85"/>
<circle cx="69.50" cy="296.60" r="1.5" fill="#fff" stroke="#3c3cf0" stroke-width="1.1"/>
<circle cx="70.90" cy="301.40" r="1.5" fill="#fff" stroke="#3c3cf0" stroke-width="1.1"/>
<circle cx="69.90" cy="314.60" r="1.5" fill="#fff" stroke="#3c3cf0" stroke-width="1.1"/>
<circle cx="70.70" cy="317.00" r="1.5" fill="#fff" stroke="#3c3cf0" stroke-width="1.1"/>
<circle cx="69.60" cy="347.40" r="1.5" fill="#fff" stroke="#3c3cf0" stroke-width="1.1"/>
<rect x="76.00" y="319.00" width="4.60" height="41.30" fill="#d2d2fa" stroke="#7a7af2" stroke-width="1.4"/>
<text x="80.60" y="358.70" font-size="4.8" text-anchor="start" fill="#111" transform="rotate(-90 80.6 358.7)" stroke="#111" stroke-width="0.18">329</text>
<line x1="78.30" y1="303.04" x2="78.30" y2="334.96" stroke="#444" stroke-width="0.85"/>
<circle cx="77.60" cy="301.40" r="1.5" fill="#fff" stroke="#3c3cf0" stroke-width="1.1"/>
<circle cx="79.00" cy="303.40" r="1.5" fill="#fff" stroke="#3c3cf0" stroke-width="1.1"/>
<circle cx="78.00" cy="315.40" r="1.5" fill="#fff" stroke="#3c3cf0" stroke-width="1.1"/>
<circle cx="78.80" cy="332.00" r="1.5" fill="#fff" stroke="#3c3cf0" stroke-width="1.1"/>
<circle cx="77.70" cy="337.00" r="1.5" fill="#fff" stroke="#3c3cf0" stroke-width="1.1"/>
<ellipse cx="91.90" cy="360.30" rx="2.3" ry="1.45" fill="white" stroke="#ee3a3a" stroke-width="1.35"/>
<rect x="97.70" y="342.00" width="4.60" height="18.30" fill="#f8dcdc" stroke="#f0a0a0" stroke-width="1.4"/>
<text x="102.30" y="358.70" font-size="4.8" text-anchor="start" fill="#111" transform="rotate(-90 102.3 358.7)" stroke="#111" stroke-width="0.18">79</text>
<line x1="100.00" y1="330.43" x2="100.00" y2="353.57" stroke="#444" stroke-width="0.85"/>
<circle cx="99.30" cy="325.00" r="1.5" fill="#fff" stroke="#ee3a3a" stroke-width="1.1"/>
<circle cx="100.70" cy="332.00" r="1.5" fill="#fff" stroke="#ee3a3a" stroke-width="1.1"/>
<circle cx="99.70" cy="344.00" r="1.5" fill="#fff" stroke="#ee3a3a" stroke-width="1.1"/>
<circle cx="100.50" cy="349.00" r="1.5" fill="#fff" stroke="#ee3a3a" stroke-width="1.1"/>
<circle cx="99.40" cy="353.00" r="1.5" fill="#fff" stroke="#ee3a3a" stroke-width="1.1"/>
<rect x="105.80" y="320.00" width="4.60" height="40.30" fill="#f8dcdc" stroke="#f0a0a0" stroke-width="1.4"/>
<text x="110.40" y="358.70" font-size="4.8" text-anchor="start" fill="#111" transform="rotate(-90 110.4 358.7)" stroke="#111" stroke-width="0.18">292</text>
<line x1="108.10" y1="309.00" x2="108.10" y2="334.14" stroke="#444" stroke-width="0.85"/>
<circle cx="107.40" cy="308.00" r="1.5" fill="#fff" stroke="#ee3a3a" stroke-width="1.1"/>
<circle cx="108.80" cy="309.00" r="1.5" fill="#fff" stroke="#ee3a3a" stroke-width="1.1"/>
<circle cx="107.80" cy="316.00" r="1.5" fill="#fff" stroke="#ee3a3a" stroke-width="1.1"/>
<circle cx="108.60" cy="324.00" r="1.5" fill="#fff" stroke="#ee3a3a" stroke-width="1.1"/>
<circle cx="107.50" cy="343.00" r="1.5" fill="#fff" stroke="#ee3a3a" stroke-width="1.1"/>
<rect x="113.90" y="328.00" width="4.60" height="32.30" fill="#f8dcdc" stroke="#f0a0a0" stroke-width="1.4"/>
<text x="118.50" y="358.70" font-size="4.8" text-anchor="start" fill="#111" transform="rotate(-90 118.5 358.7)" stroke="#111" stroke-width="0.18">190</text>
<line x1="116.20" y1="311.32" x2="116.20" y2="344.68" stroke="#444" stroke-width="0.85"/>
<circle cx="115.50" cy="302.60" r="1.5" fill="#fff" stroke="#ee3a3a" stroke-width="1.1"/>
<circle cx="116.90" cy="324.00" r="1.5" fill="#fff" stroke="#ee3a3a" stroke-width="1.1"/>
<circle cx="115.90" cy="328.00" r="1.5" fill="#fff" stroke="#ee3a3a" stroke-width="1.1"/>
<circle cx="116.70" cy="331.00" r="1.5" fill="#fff" stroke="#ee3a3a" stroke-width="1.1"/>
<circle cx="115.60" cy="350.00" r="1.5" fill="#fff" stroke="#ee3a3a" stroke-width="1.1"/>
<ellipse cx="129.80" cy="360.30" rx="2.3" ry="1.45" fill="white" stroke="#3cc43c" stroke-width="1.35"/>
<rect x="135.60" y="333.40" width="4.60" height="26.90" fill="#e0f5e0" stroke="#7ed67e" stroke-width="1.4"/>
<text x="140.20" y="358.70" font-size="4.8" text-anchor="start" fill="#111" transform="rotate(-90 140.20000000000002 358.7)" stroke="#111" stroke-width="0.18">132</text>
<line x1="137.90" y1="322.78" x2="137.90" y2="344.02" stroke="#444" stroke-width="0.85"/>
<circle cx="137.20" cy="319.00" r="1.5" fill="#fff" stroke="#3cc43c" stroke-width="1.1"/>
<circle cx="138.60" cy="326.00" r="1.5" fill="#fff" stroke="#3cc43c" stroke-width="1.1"/>
<circle cx="137.60" cy="333.00" r="1.5" fill="#fff" stroke="#3cc43c" stroke-width="1.1"/>
<circle cx="138.40" cy="343.00" r="1.5" fill="#fff" stroke="#3cc43c" stroke-width="1.1"/>
<circle cx="137.30" cy="344.00" r="1.5" fill="#fff" stroke="#3cc43c" stroke-width="1.1"/>
<rect x="143.70" y="320.00" width="4.60" height="40.30" fill="#e0f5e0" stroke="#7ed67e" stroke-width="1.4"/>
<text x="148.30" y="358.70" font-size="4.8" text-anchor="start" fill="#111" transform="rotate(-90 148.3 358.7)" stroke="#111" stroke-width="0.18">301</text>
<line x1="146.00" y1="299.11" x2="146.00" y2="340.89" stroke="#444" stroke-width="0.85"/>
<circle cx="145.30" cy="292.60" r="1.5" fill="#fff" stroke="#3cc43c" stroke-width="1.1"/>
<circle cx="146.70" cy="306.60" r="1.5" fill="#fff" stroke="#3cc43c" stroke-width="1.1"/>
<circle cx="145.70" cy="317.00" r="1.5" fill="#fff" stroke="#3cc43c" stroke-width="1.1"/>
<circle cx="146.50" cy="337.00" r="1.5" fill="#fff" stroke="#3cc43c" stroke-width="1.1"/>
<circle cx="145.40" cy="344.00" r="1.5" fill="#fff" stroke="#3cc43c" stroke-width="1.1"/>
<rect x="151.80" y="325.40" width="4.60" height="34.90" fill="#e0f5e0" stroke="#7ed67e" stroke-width="1.4"/>
<text x="156.40" y="358.70" font-size="4.8" text-anchor="start" fill="#111" transform="rotate(-90 156.40000000000003 358.7)" stroke="#111" stroke-width="0.18">213</text>
<line x1="154.10" y1="311.77" x2="154.10" y2="339.03" stroke="#444" stroke-width="0.85"/>
<circle cx="153.40" cy="309.00" r="1.5" fill="#fff" stroke="#3cc43c" stroke-width="1.1"/>
<circle cx="154.80" cy="312.00" r="1.5" fill="#fff" stroke="#3cc43c" stroke-width="1.1"/>
<circle cx="153.80" cy="322.00" r="1.5" fill="#fff" stroke="#3cc43c" stroke-width="1.1"/>
<circle cx="154.60" cy="326.00" r="1.5" fill="#fff" stroke="#3cc43c" stroke-width="1.1"/>
<circle cx="153.50" cy="344.00" r="1.5" fill="#fff" stroke="#3cc43c" stroke-width="1.1"/>
<ellipse cx="167.70" cy="360.30" rx="2.3" ry="1.45" fill="white" stroke="#bb4be6" stroke-width="1.35"/>
<rect x="173.50" y="330.00" width="4.60" height="30.30" fill="#ddcbef" stroke="#cf96ec" stroke-width="1.4"/>
<text x="178.10" y="358.70" font-size="4.8" text-anchor="start" fill="#111" transform="rotate(-90 178.1 358.7)" stroke="#111" stroke-width="0.18">166</text>
<line x1="175.80" y1="320.22" x2="175.80" y2="339.78" stroke="#444" stroke-width="0.85"/>
<circle cx="175.10" cy="315.60" r="1.5" fill="#fff" stroke="#bb4be6" stroke-width="1.1"/>
<circle cx="176.50" cy="325.40" r="1.5" fill="#fff" stroke="#bb4be6" stroke-width="1.1"/>
<circle cx="175.50" cy="330.00" r="1.5" fill="#fff" stroke="#bb4be6" stroke-width="1.1"/>
<circle cx="176.30" cy="331.40" r="1.5" fill="#fff" stroke="#bb4be6" stroke-width="1.1"/>
<circle cx="175.20" cy="343.00" r="1.5" fill="#fff" stroke="#bb4be6" stroke-width="1.1"/>
<rect x="181.60" y="304.00" width="4.60" height="56.30" fill="#ddcbef" stroke="#cf96ec" stroke-width="1.4"/>
<text x="186.20" y="358.70" font-size="4.8" text-anchor="start" fill="#111" transform="rotate(-90 186.2 358.7)" stroke="#111" stroke-width="0.18">765</text>
<line x1="183.90" y1="293.38" x2="183.90" y2="314.62" stroke="#444" stroke-width="0.85"/>
<circle cx="183.20" cy="288.00" r="1.5" fill="#fff" stroke="#bb4be6" stroke-width="1.1"/>
<circle cx="184.60" cy="305.00" r="1.5" fill="#fff" stroke="#bb4be6" stroke-width="1.1"/>
<circle cx="183.60" cy="308.00" r="1.5" fill="#fff" stroke="#bb4be6" stroke-width="1.1"/>
<circle cx="184.40" cy="314.00" r="1.5" fill="#fff" stroke="#bb4be6" stroke-width="1.1"/>
<rect x="189.70" y="314.60" width="4.60" height="45.70" fill="#ddcbef" stroke="#cf96ec" stroke-width="1.4"/>
<text x="194.30" y="358.70" font-size="4.8" text-anchor="start" fill="#111" transform="rotate(-90 194.3 358.7)" stroke="#111" stroke-width="0.18">427</text>
<line x1="192.00" y1="305.19" x2="192.00" y2="324.01" stroke="#444" stroke-width="0.85"/>
<circle cx="191.30" cy="298.00" r="1.5" fill="#fff" stroke="#bb4be6" stroke-width="1.1"/>
<circle cx="192.70" cy="315.00" r="1.5" fill="#fff" stroke="#bb4be6" stroke-width="1.1"/>
<circle cx="191.70" cy="317.00" r="1.5" fill="#fff" stroke="#bb4be6" stroke-width="1.1"/>
<circle cx="192.50" cy="320.00" r="1.5" fill="#fff" stroke="#bb4be6" stroke-width="1.1"/>
<line x1="205.60" y1="353.40" x2="205.60" y2="360.30" stroke="#444" stroke-width="0.85"/>
<ellipse cx="205.60" cy="360.30" rx="2.3" ry="1.45" fill="white" stroke="#f59a3a" stroke-width="1.35"/>
<circle cx="205.60" cy="353.40" r="1.5" fill="#fff" stroke="#f59a3a" stroke-width="1.1"/>
<rect x="211.40" y="323.50" width="4.60" height="36.80" fill="#fde4cc" stroke="#f8bd80" stroke-width="1.4"/>
<text x="216.00" y="358.70" font-size="4.8" text-anchor="start" fill="#111" transform="rotate(-90 216.0 358.7)" stroke="#111" stroke-width="0.18">212</text>
<line x1="213.70" y1="316.11" x2="213.70" y2="330.89" stroke="#444" stroke-width="0.85"/>
<circle cx="213.00" cy="312.40" r="1.5" fill="#fff" stroke="#f59a3a" stroke-width="1.1"/>
<circle cx="214.40" cy="323.70" r="1.5" fill="#fff" stroke="#f59a3a" stroke-width="1.1"/>
<circle cx="213.40" cy="326.30" r="1.5" fill="#fff" stroke="#f59a3a" stroke-width="1.1"/>
<circle cx="214.20" cy="328.20" r="1.5" fill="#fff" stroke="#f59a3a" stroke-width="1.1"/>
<circle cx="213.10" cy="329.70" r="1.5" fill="#fff" stroke="#f59a3a" stroke-width="1.1"/>
<circle cx="214.30" cy="333.90" r="1.5" fill="#fff" stroke="#f59a3a" stroke-width="1.1"/>
<rect x="219.50" y="310.50" width="4.60" height="49.80" fill="#fde4cc" stroke="#f8bd80" stroke-width="1.4"/>
<text x="224.10" y="358.70" font-size="4.8" text-anchor="start" fill="#111" transform="rotate(-90 224.1 358.7)" stroke="#111" stroke-width="0.18">509</text>
<line x1="221.80" y1="306.19" x2="221.80" y2="314.81" stroke="#444" stroke-width="0.85"/>
<circle cx="221.10" cy="304.40" r="1.5" fill="#fff" stroke="#f59a3a" stroke-width="1.1"/>
<circle cx="222.50" cy="310.00" r="1.5" fill="#fff" stroke="#f59a3a" stroke-width="1.1"/>
<circle cx="221.50" cy="312.40" r="1.5" fill="#fff" stroke="#f59a3a" stroke-width="1.1"/>
<circle cx="222.30" cy="315.00" r="1.5" fill="#fff" stroke="#f59a3a" stroke-width="1.1"/>
<rect x="227.60" y="310.00" width="4.60" height="50.30" fill="#fde4cc" stroke="#f8bd80" stroke-width="1.4"/>
<text x="232.20" y="358.70" font-size="4.8" text-anchor="start" fill="#111" transform="rotate(-90 232.2 358.7)" stroke="#111" stroke-width="0.18">542</text>
<line x1="229.90" y1="304.30" x2="229.90" y2="317.15" stroke="#444" stroke-width="0.85"/>
<circle cx="229.20" cy="303.30" r="1.5" fill="#fff" stroke="#f59a3a" stroke-width="1.1"/>
<circle cx="230.60" cy="304.80" r="1.5" fill="#fff" stroke="#f59a3a" stroke-width="1.1"/>
<circle cx="229.60" cy="307.00" r="1.5" fill="#fff" stroke="#f59a3a" stroke-width="1.1"/>
<circle cx="230.40" cy="315.40" r="1.5" fill="#fff" stroke="#f59a3a" stroke-width="1.1"/>
<circle cx="229.30" cy="317.30" r="1.5" fill="#fff" stroke="#f59a3a" stroke-width="1.1"/>
<circle cx="230.50" cy="320.00" r="1.5" fill="#fff" stroke="#f59a3a" stroke-width="1.1"/>
<ellipse cx="243.50" cy="360.30" rx="2.3" ry="1.45" fill="white" stroke="#404040" stroke-width="1.35"/>
<rect x="249.30" y="360.30" width="4.60" height="0.00" fill="#dddddd" stroke="#777" stroke-width="1.4"/>
<ellipse cx="251.60" cy="360.30" rx="2.3" ry="1.45" fill="white" stroke="#404040" stroke-width="1.35"/>
<rect x="257.40" y="360.30" width="4.60" height="0.00" fill="#dddddd" stroke="#777" stroke-width="1.4"/>
<ellipse cx="259.70" cy="360.30" rx="2.3" ry="1.45" fill="white" stroke="#404040" stroke-width="1.35"/>
<rect x="265.50" y="360.30" width="4.60" height="0.00" fill="#dddddd" stroke="#777" stroke-width="1.4"/>
<ellipse cx="267.80" cy="360.30" rx="2.3" ry="1.45" fill="white" stroke="#404040" stroke-width="1.35"/>
<line x1="46.00" y1="262.40" x2="48.50" y2="262.40" stroke="#555" stroke-width="1"/>
<text x="43.90" y="265.00" font-size="7.2" text-anchor="end" fill="#222" stroke="#222" stroke-width="0.15">10<tspan font-size="4.75" dx="0.72" dy="-1.87">4</tspan></text>
<line x1="46.00" y1="300.20" x2="48.50" y2="300.20" stroke="#555" stroke-width="1"/>
<text x="43.90" y="302.80" font-size="7.2" text-anchor="end" fill="#222" stroke="#222" stroke-width="0.15">10<tspan font-size="4.75" dx="0.72" dy="-1.87">3</tspan></text>
<line x1="46.00" y1="338.00" x2="48.50" y2="338.00" stroke="#555" stroke-width="1"/>
<text x="43.90" y="340.60" font-size="7.2" text-anchor="end" fill="#222" stroke="#222" stroke-width="0.15">10<tspan font-size="4.75" dx="0.72" dy="-1.87">2</tspan></text>
<line x1="54.00" y1="360.30" x2="54.00" y2="363.60" stroke="#555" stroke-width="0.9"/>
<text x="56.60" y="366.20" font-size="7.3" text-anchor="end" fill="#222" transform="rotate(-90 56.6 366.2)" stroke="#222" stroke-width="0.15">D0</text>
<line x1="62.10" y1="360.30" x2="62.10" y2="363.60" stroke="#555" stroke-width="0.9"/>
<text x="64.70" y="366.20" font-size="7.3" text-anchor="end" fill="#222" transform="rotate(-90 64.7 366.2)" stroke="#222" stroke-width="0.15">D28</text>
<line x1="70.20" y1="360.30" x2="70.20" y2="363.60" stroke="#555" stroke-width="0.9"/>
<text x="72.80" y="366.20" font-size="7.3" text-anchor="end" fill="#222" transform="rotate(-90 72.8 366.2)" stroke="#222" stroke-width="0.15">D42</text>
<line x1="78.30" y1="360.30" x2="78.30" y2="363.60" stroke="#555" stroke-width="0.9"/>
<text x="80.90" y="366.20" font-size="7.3" text-anchor="end" fill="#222" transform="rotate(-90 80.89999999999999 366.2)" stroke="#222" stroke-width="0.15">D56</text>
<text x="64.40" y="393.50" font-size="6.6" text-anchor="start" fill="#2f9e2f" transform="rotate(-90 64.4 393.5)" stroke="#2f9e2f" stroke-width="0.15">×4.4</text>
<text x="72.50" y="393.50" font-size="6.6" text-anchor="start" fill="#2f9e2f" transform="rotate(-90 72.5 393.5)" stroke="#2f9e2f" stroke-width="0.15">×2.7</text>
<text x="80.60" y="393.50" font-size="6.6" text-anchor="start" fill="#ee2b2b" transform="rotate(-90 80.6 393.5)" stroke="#ee2b2b" stroke-width="0.15">×1.2</text>
<line x1="91.90" y1="360.30" x2="91.90" y2="363.60" stroke="#555" stroke-width="0.9"/>
<text x="94.50" y="366.20" font-size="7.3" text-anchor="end" fill="#222" transform="rotate(-90 94.5 366.2)" stroke="#222" stroke-width="0.15">D0</text>
<line x1="100.00" y1="360.30" x2="100.00" y2="363.60" stroke="#555" stroke-width="0.9"/>
<text x="102.60" y="366.20" font-size="7.3" text-anchor="end" fill="#222" transform="rotate(-90 102.6 366.2)" stroke="#222" stroke-width="0.15">D28</text>
<line x1="108.10" y1="360.30" x2="108.10" y2="363.60" stroke="#555" stroke-width="0.9"/>
<text x="110.70" y="366.20" font-size="7.3" text-anchor="end" fill="#222" transform="rotate(-90 110.7 366.2)" stroke="#222" stroke-width="0.15">D42</text>
<line x1="116.20" y1="360.30" x2="116.20" y2="363.60" stroke="#555" stroke-width="0.9"/>
<text x="118.80" y="366.20" font-size="7.3" text-anchor="end" fill="#222" transform="rotate(-90 118.8 366.2)" stroke="#222" stroke-width="0.15">D56</text>
<text x="102.30" y="393.50" font-size="6.6" text-anchor="start" fill="#2f9e2f" transform="rotate(-90 102.3 393.5)" stroke="#2f9e2f" stroke-width="0.15">×3.1</text>
<text x="110.40" y="393.50" font-size="6.6" text-anchor="start" fill="#2f9e2f" transform="rotate(-90 110.4 393.5)" stroke="#2f9e2f" stroke-width="0.15">×3.8</text>
<text x="118.50" y="393.50" font-size="6.6" text-anchor="start" fill="#ee2b2b" transform="rotate(-90 118.5 393.5)" stroke="#ee2b2b" stroke-width="0.15">×1.5</text>
<line x1="129.80" y1="360.30" x2="129.80" y2="363.60" stroke="#555" stroke-width="0.9"/>
<text x="132.40" y="366.20" font-size="7.3" text-anchor="end" fill="#222" transform="rotate(-90 132.4 366.2)" stroke="#222" stroke-width="0.15">D0</text>
<line x1="137.90" y1="360.30" x2="137.90" y2="363.60" stroke="#555" stroke-width="0.9"/>
<text x="140.50" y="366.20" font-size="7.3" text-anchor="end" fill="#222" transform="rotate(-90 140.5 366.2)" stroke="#222" stroke-width="0.15">D28</text>
<line x1="146.00" y1="360.30" x2="146.00" y2="363.60" stroke="#555" stroke-width="0.9"/>
<text x="148.60" y="366.20" font-size="7.3" text-anchor="end" fill="#222" transform="rotate(-90 148.6 366.2)" stroke="#222" stroke-width="0.15">D42</text>
<line x1="154.10" y1="360.30" x2="154.10" y2="363.60" stroke="#555" stroke-width="0.9"/>
<text x="156.70" y="366.20" font-size="7.3" text-anchor="end" fill="#222" transform="rotate(-90 156.70000000000002 366.2)" stroke="#222" stroke-width="0.15">D56</text>
<text x="140.20" y="393.50" font-size="6.6" text-anchor="start" fill="#2f9e2f" transform="rotate(-90 140.20000000000002 393.5)" stroke="#2f9e2f" stroke-width="0.15">×5.3</text>
<text x="148.30" y="393.50" font-size="6.6" text-anchor="start" fill="#2f9e2f" transform="rotate(-90 148.3 393.5)" stroke="#2f9e2f" stroke-width="0.15">×2.3</text>
<text x="156.40" y="393.50" font-size="6.6" text-anchor="start" fill="#ee2b2b" transform="rotate(-90 156.40000000000003 393.5)" stroke="#ee2b2b" stroke-width="0.15">×1.4</text>
<line x1="167.70" y1="360.30" x2="167.70" y2="363.60" stroke="#555" stroke-width="0.9"/>
<text x="170.30" y="366.20" font-size="7.3" text-anchor="end" fill="#222" transform="rotate(-90 170.29999999999998 366.2)" stroke="#222" stroke-width="0.15">D0</text>
<line x1="175.80" y1="360.30" x2="175.80" y2="363.60" stroke="#555" stroke-width="0.9"/>
<text x="178.40" y="366.20" font-size="7.3" text-anchor="end" fill="#222" transform="rotate(-90 178.39999999999998 366.2)" stroke="#222" stroke-width="0.15">D28</text>
<line x1="183.90" y1="360.30" x2="183.90" y2="363.60" stroke="#555" stroke-width="0.9"/>
<text x="186.50" y="366.20" font-size="7.3" text-anchor="end" fill="#222" transform="rotate(-90 186.49999999999997 366.2)" stroke="#222" stroke-width="0.15">D42</text>
<line x1="192.00" y1="360.30" x2="192.00" y2="363.60" stroke="#555" stroke-width="0.9"/>
<text x="194.60" y="366.20" font-size="7.3" text-anchor="end" fill="#222" transform="rotate(-90 194.6 366.2)" stroke="#222" stroke-width="0.15">D56</text>
<text x="178.10" y="393.50" font-size="6.6" text-anchor="start" fill="#2f9e2f" transform="rotate(-90 178.1 393.5)" stroke="#2f9e2f" stroke-width="0.15">×6.6</text>
<text x="186.20" y="393.50" font-size="6.6" text-anchor="start" fill="#2f9e2f" transform="rotate(-90 186.2 393.5)" stroke="#2f9e2f" stroke-width="0.15">×4.6</text>
<text x="194.30" y="393.50" font-size="6.6" text-anchor="start" fill="#ee2b2b" transform="rotate(-90 194.3 393.5)" stroke="#ee2b2b" stroke-width="0.15">×1.8</text>
<line x1="205.60" y1="360.30" x2="205.60" y2="363.60" stroke="#555" stroke-width="0.9"/>
<text x="208.20" y="366.20" font-size="7.3" text-anchor="end" fill="#222" transform="rotate(-90 208.2 366.2)" stroke="#222" stroke-width="0.15">D0</text>
<line x1="213.70" y1="360.30" x2="213.70" y2="363.60" stroke="#555" stroke-width="0.9"/>
<text x="216.30" y="366.20" font-size="7.3" text-anchor="end" fill="#222" transform="rotate(-90 216.29999999999998 366.2)" stroke="#222" stroke-width="0.15">D28</text>
<line x1="221.80" y1="360.30" x2="221.80" y2="363.60" stroke="#555" stroke-width="0.9"/>
<text x="224.40" y="366.20" font-size="7.3" text-anchor="end" fill="#222" transform="rotate(-90 224.39999999999998 366.2)" stroke="#222" stroke-width="0.15">D42</text>
<line x1="229.90" y1="360.30" x2="229.90" y2="363.60" stroke="#555" stroke-width="0.9"/>
<text x="232.50" y="366.20" font-size="7.3" text-anchor="end" fill="#222" transform="rotate(-90 232.49999999999997 366.2)" stroke="#222" stroke-width="0.15">D56</text>
<text x="216.00" y="393.50" font-size="6.6" text-anchor="start" fill="#2f9e2f" transform="rotate(-90 216.0 393.5)" stroke="#2f9e2f" stroke-width="0.15">×7.9</text>
<text x="224.10" y="393.50" font-size="6.6" text-anchor="start" fill="#2f9e2f" transform="rotate(-90 224.1 393.5)" stroke="#2f9e2f" stroke-width="0.15">×2.4</text>
<text x="232.20" y="393.50" font-size="6.6" text-anchor="start" fill="#ee2b2b" transform="rotate(-90 232.2 393.5)" stroke="#ee2b2b" stroke-width="0.15">×1.1</text>
<line x1="243.50" y1="360.30" x2="243.50" y2="363.60" stroke="#555" stroke-width="0.9"/>
<text x="246.10" y="366.20" font-size="7.3" text-anchor="end" fill="#222" transform="rotate(-90 246.1 366.2)" stroke="#222" stroke-width="0.15">D0</text>
<line x1="251.60" y1="360.30" x2="251.60" y2="363.60" stroke="#555" stroke-width="0.9"/>
<text x="254.20" y="366.20" font-size="7.3" text-anchor="end" fill="#222" transform="rotate(-90 254.2 366.2)" stroke="#222" stroke-width="0.15">D28</text>
<line x1="259.70" y1="360.30" x2="259.70" y2="363.60" stroke="#555" stroke-width="0.9"/>
<text x="262.30" y="366.20" font-size="7.3" text-anchor="end" fill="#222" transform="rotate(-90 262.3 366.2)" stroke="#222" stroke-width="0.15">D42</text>
<line x1="267.80" y1="360.30" x2="267.80" y2="363.60" stroke="#555" stroke-width="0.9"/>
<text x="270.40" y="366.20" font-size="7.3" text-anchor="end" fill="#222" transform="rotate(-90 270.40000000000003 366.2)" stroke="#222" stroke-width="0.15">D56</text>
<text x="66.20" y="257.60" font-size="8.4" text-anchor="middle" fill="#222" stroke="#222" stroke-width="0.15">Beta</text>
<text x="103.00" y="257.60" font-size="8.4" text-anchor="middle" fill="#222" stroke="#222" stroke-width="0.15">Delta</text>
<text x="140.00" y="257.60" font-size="8.4" text-anchor="middle" fill="#222" stroke="#222" stroke-width="0.15">Omicron</text>
<text x="180.00" y="248.00" font-size="8.4" text-anchor="middle" fill="#222" stroke="#222" stroke-width="0.15">Delta</text>
<text x="180.00" y="257.50" font-size="8.4" text-anchor="middle" fill="#222" stroke="#222" stroke-width="0.15">+Omi.</text>
<text x="220.50" y="248.00" font-size="8.4" text-anchor="middle" fill="#222" stroke="#222" stroke-width="0.15">Beta</text>
<text x="220.50" y="257.50" font-size="8.4" text-anchor="middle" fill="#222" stroke="#222" stroke-width="0.15">+Omi.</text>
<text x="253.00" y="257.60" font-size="8.4" text-anchor="middle" fill="#222" stroke="#222" stroke-width="0.15">PBS</text>
<text x="161.00" y="234.40" font-size="9.7" text-anchor="middle" fill="#222">Endpoints anti-OmicronRBD</text>
<text x="4.80" y="232.40" font-size="25" text-anchor="start" fill="#111" font-weight="bold">C</text>
<text x="24.60" y="311.20" font-size="8.1" text-anchor="middle" fill="#222" transform="rotate(-90 24.6 311.2)" stroke="#222" stroke-width="0.15">Endpoint titer</text>
<rect x="357.40" y="261.00" width="37.20" height="99.10" fill="#e1e1e1" stroke="none" stroke-width="0"/>
<rect x="433.00" y="261.00" width="39.00" height="99.10" fill="#e1e1e1" stroke="none" stroke-width="0"/>
<rect x="508.60" y="261.00" width="36.40" height="99.10" fill="#e1e1e1" stroke="none" stroke-width="0"/>
<line x1="334.00" y1="247.40" x2="485.00" y2="247.40" stroke="#8a8a8a" stroke-width="0.9"/>
<circle cx="409.60" cy="243.80" r="1.3" fill="#111" stroke="none" stroke-width="0"/>
<line x1="334.00" y1="253.80" x2="447.30" y2="253.80" stroke="#8a8a8a" stroke-width="0.9"/>
<circle cx="390.80" cy="250.40" r="1.3" fill="#111" stroke="none" stroke-width="0"/>
<line x1="334.00" y1="260.40" x2="409.60" y2="260.40" stroke="#8a8a8a" stroke-width="0.9"/>
<circle cx="369.82" cy="256.90" r="1.3" fill="#111" stroke="none" stroke-width="0"/>
<circle cx="373.57" cy="256.90" r="1.3" fill="#111" stroke="none" stroke-width="0"/>
<line x1="372.00" y1="266.90" x2="409.60" y2="266.90" stroke="#8a8a8a" stroke-width="0.9"/>
<circle cx="388.73" cy="263.40" r="1.3" fill="#111" stroke="none" stroke-width="0"/>
<circle cx="392.48" cy="263.40" r="1.3" fill="#111" stroke="none" stroke-width="0"/>
<line x1="372.00" y1="274.40" x2="447.30" y2="274.40" stroke="#8a8a8a" stroke-width="0.9"/>
<circle cx="409.60" cy="270.90" r="1.3" fill="#111" stroke="none" stroke-width="0"/>
<line x1="321.00" y1="261.40" x2="321.00" y2="360.10" stroke="#555" stroke-width="1"/>
<line x1="321.00" y1="360.10" x2="545.00" y2="360.10" stroke="#555" stroke-width="1"/>
<ellipse cx="326.00" cy="360.10" rx="2.3" ry="1.45" fill="white" stroke="#3c3cf0" stroke-width="1.35"/>
<rect x="331.80" y="297.40" width="4.60" height="62.70" fill="#d2d2fa" stroke="#7a7af2" stroke-width="1.4"/>
<text x="336.40" y="358.50" font-size="4.8" text-anchor="start" fill="#111" transform="rotate(-90 336.40000000000003 358.5)" stroke="#111" stroke-width="0.18">30337</text>
<line x1="334.10" y1="294.66" x2="334.10" y2="300.14" stroke="#444" stroke-width="0.85"/>
<circle cx="333.40" cy="291.00" r="1.5" fill="#fff" stroke="#3c3cf0" stroke-width="1.1"/>
<circle cx="334.80" cy="293.00" r="1.5" fill="#fff" stroke="#3c3cf0" stroke-width="1.1"/>
<circle cx="333.80" cy="294.60" r="1.5" fill="#fff" stroke="#3c3cf0" stroke-width="1.1"/>
<circle cx="334.60" cy="296.60" r="1.5" fill="#fff" stroke="#3c3cf0" stroke-width="1.1"/>
<circle cx="333.50" cy="298.00" r="1.5" fill="#fff" stroke="#3c3cf0" stroke-width="1.1"/>
<rect x="339.90" y="291.00" width="4.60" height="69.10" fill="#d2d2fa" stroke="#7a7af2" stroke-width="1.4"/>
<text x="344.50" y="358.50" font-size="4.8" text-anchor="start" fill="#111" transform="rotate(-90 344.5 358.5)" stroke="#111" stroke-width="0.18">78763</text>
<line x1="342.20" y1="286.23" x2="342.20" y2="295.77" stroke="#444" stroke-width="0.85"/>
<circle cx="341.50" cy="278.60" r="1.5" fill="#fff" stroke="#3c3cf0" stroke-width="1.1"/>
<circle cx="342.90" cy="284.60" r="1.5" fill="#fff" stroke="#3c3cf0" stroke-width="1.1"/>
<circle cx="341.90" cy="287.00" r="1.5" fill="#fff" stroke="#3c3cf0" stroke-width="1.1"/>
<circle cx="342.70" cy="289.40" r="1.5" fill="#fff" stroke="#3c3cf0" stroke-width="1.1"/>
<circle cx="341.60" cy="291.00" r="1.5" fill="#fff" stroke="#3c3cf0" stroke-width="1.1"/>
<rect x="348.00" y="296.00" width="4.60" height="64.10" fill="#d2d2fa" stroke="#7a7af2" stroke-width="1.4"/>
<text x="352.60" y="358.50" font-size="4.8" text-anchor="start" fill="#111" transform="rotate(-90 352.6 358.5)" stroke="#111" stroke-width="0.18">40865</text>
<line x1="350.30" y1="290.79" x2="350.30" y2="301.21" stroke="#444" stroke-width="0.85"/>
<circle cx="349.60" cy="284.00" r="1.5" fill="#fff" stroke="#3c3cf0" stroke-width="1.1"/>
<circle cx="351.00" cy="289.00" r="1.5" fill="#fff" stroke="#3c3cf0" stroke-width="1.1"/>
<circle cx="350.00" cy="292.00" r="1.5" fill="#fff" stroke="#3c3cf0" stroke-width="1.1"/>
<circle cx="350.80" cy="295.00" r="1.5" fill="#fff" stroke="#3c3cf0" stroke-width="1.1"/>
<circle cx="349.70" cy="297.60" r="1.5" fill="#fff" stroke="#3c3cf0" stroke-width="1.1"/>
<ellipse cx="363.90" cy="360.10" rx="2.3" ry="1.45" fill="white" stroke="#ee3a3a" stroke-width="1.35"/>
<rect x="369.70" y="298.00" width="4.60" height="62.10" fill="#f8dcdc" stroke="#f0a0a0" stroke-width="1.4"/>
<text x="374.30" y="358.50" font-size="4.8" text-anchor="start" fill="#111" transform="rotate(-90 374.3 358.5)" stroke="#111" stroke-width="0.18">19826</text>
<line x1="372.00" y1="296.60" x2="372.00" y2="300.69" stroke="#444" stroke-width="0.85"/>
<circle cx="371.30" cy="295.60" r="1.5" fill="#fff" stroke="#ee3a3a" stroke-width="1.1"/>
<circle cx="372.70" cy="297.40" r="1.5" fill="#fff" stroke="#ee3a3a" stroke-width="1.1"/>
<circle cx="371.70" cy="300.00" r="1.5" fill="#fff" stroke="#ee3a3a" stroke-width="1.1"/>
<circle cx="372.50" cy="302.00" r="1.5" fill="#fff" stroke="#ee3a3a" stroke-width="1.1"/>
<rect x="377.80" y="291.00" width="4.60" height="69.10" fill="#f8dcdc" stroke="#f0a0a0" stroke-width="1.4"/>
<text x="382.40" y="358.50" font-size="4.8" text-anchor="start" fill="#111" transform="rotate(-90 382.4 358.5)" stroke="#111" stroke-width="0.18">40056</text>
<line x1="380.10" y1="282.15" x2="380.10" y2="299.85" stroke="#444" stroke-width="0.85"/>
<circle cx="379.40" cy="280.60" r="1.5" fill="#fff" stroke="#ee3a3a" stroke-width="1.1"/>
<circle cx="380.80" cy="287.00" r="1.5" fill="#fff" stroke="#ee3a3a" stroke-width="1.1"/>
<circle cx="379.80" cy="292.00" r="1.5" fill="#fff" stroke="#ee3a3a" stroke-width="1.1"/>
<circle cx="380.60" cy="297.00" r="1.5" fill="#fff" stroke="#ee3a3a" stroke-width="1.1"/>
<circle cx="379.50" cy="304.00" r="1.5" fill="#fff" stroke="#ee3a3a" stroke-width="1.1"/>
<rect x="385.90" y="297.00" width="4.60" height="63.10" fill="#f8dcdc" stroke="#f0a0a0" stroke-width="1.4"/>
<text x="390.50" y="358.50" font-size="4.8" text-anchor="start" fill="#111" transform="rotate(-90 390.5 358.5)" stroke="#111" stroke-width="0.18">23871</text>
<line x1="388.20" y1="292.00" x2="388.20" y2="302.95" stroke="#444" stroke-width="0.85"/>
<circle cx="387.50" cy="291.00" r="1.5" fill="#fff" stroke="#ee3a3a" stroke-width="1.1"/>
<circle cx="388.90" cy="292.60" r="1.5" fill="#fff" stroke="#ee3a3a" stroke-width="1.1"/>
<circle cx="387.90" cy="296.00" r="1.5" fill="#fff" stroke="#ee3a3a" stroke-width="1.1"/>
<circle cx="388.70" cy="300.00" r="1.5" fill="#fff" stroke="#ee3a3a" stroke-width="1.1"/>
<circle cx="387.60" cy="306.00" r="1.5" fill="#fff" stroke="#ee3a3a" stroke-width="1.1"/>
<ellipse cx="401.80" cy="360.10" rx="2.3" ry="1.45" fill="white" stroke="#3cc43c" stroke-width="1.35"/>
<rect x="407.60" y="322.00" width="4.60" height="38.10" fill="#e0f5e0" stroke="#7ed67e" stroke-width="1.4"/>
<text x="412.20" y="358.50" font-size="4.8" text-anchor="start" fill="#111" transform="rotate(-90 412.20000000000005 358.5)" stroke="#111" stroke-width="0.18">1536</text>
<line x1="409.90" y1="313.36" x2="409.90" y2="330.64" stroke="#444" stroke-width="0.85"/>
<circle cx="409.20" cy="305.00" r="1.5" fill="#fff" stroke="#3cc43c" stroke-width="1.1"/>
<circle cx="410.60" cy="311.00" r="1.5" fill="#fff" stroke="#3cc43c" stroke-width="1.1"/>
<circle cx="409.60" cy="318.00" r="1.5" fill="#fff" stroke="#3cc43c" stroke-width="1.1"/>
<circle cx="410.40" cy="323.00" r="1.5" fill="#fff" stroke="#3cc43c" stroke-width="1.1"/>
<circle cx="409.30" cy="326.60" r="1.5" fill="#fff" stroke="#3cc43c" stroke-width="1.1"/>
<rect x="415.70" y="308.60" width="4.60" height="51.50" fill="#e0f5e0" stroke="#7ed67e" stroke-width="1.4"/>
<text x="420.30" y="358.50" font-size="4.8" text-anchor="start" fill="#111" transform="rotate(-90 420.3 358.5)" stroke="#111" stroke-width="0.18">5343</text>
<line x1="418.00" y1="298.12" x2="418.00" y2="319.08" stroke="#444" stroke-width="0.85"/>
<circle cx="417.30" cy="291.40" r="1.5" fill="#fff" stroke="#3cc43c" stroke-width="1.1"/>
<circle cx="418.70" cy="304.00" r="1.5" fill="#fff" stroke="#3cc43c" stroke-width="1.1"/>
<circle cx="417.70" cy="309.00" r="1.5" fill="#fff" stroke="#3cc43c" stroke-width="1.1"/>
<circle cx="418.50" cy="314.00" r="1.5" fill="#fff" stroke="#3cc43c" stroke-width="1.1"/>
<circle cx="417.40" cy="317.00" r="1.5" fill="#fff" stroke="#3cc43c" stroke-width="1.1"/>
<circle cx="418.60" cy="320.00" r="1.5" fill="#fff" stroke="#3cc43c" stroke-width="1.1"/>
<rect x="423.80" y="315.00" width="4.60" height="45.10" fill="#e0f5e0" stroke="#7ed67e" stroke-width="1.4"/>
<text x="428.40" y="358.50" font-size="4.8" text-anchor="start" fill="#111" transform="rotate(-90 428.40000000000003 358.5)" stroke="#111" stroke-width="0.18">3181</text>
<line x1="426.10" y1="310.49" x2="426.10" y2="319.51" stroke="#444" stroke-width="0.85"/>
<circle cx="425.40" cy="307.40" r="1.5" fill="#fff" stroke="#3cc43c" stroke-width="1.1"/>
<circle cx="426.80" cy="311.40" r="1.5" fill="#fff" stroke="#3cc43c" stroke-width="1.1"/>
<circle cx="425.80" cy="314.00" r="1.5" fill="#fff" stroke="#3cc43c" stroke-width="1.1"/>
<circle cx="426.60" cy="317.00" r="1.5" fill="#fff" stroke="#3cc43c" stroke-width="1.1"/>
<circle cx="425.50" cy="319.00" r="1.5" fill="#fff" stroke="#3cc43c" stroke-width="1.1"/>
<ellipse cx="439.70" cy="360.10" rx="2.3" ry="1.45" fill="white" stroke="#bb4be6" stroke-width="1.35"/>
<rect x="445.50" y="308.00" width="4.60" height="52.10" fill="#ddcbef" stroke="#cf96ec" stroke-width="1.4"/>
<text x="450.10" y="358.50" font-size="4.8" text-anchor="start" fill="#111" transform="rotate(-90 450.1 358.5)" stroke="#111" stroke-width="0.18">5034</text>
<line x1="447.80" y1="303.60" x2="447.80" y2="312.45" stroke="#444" stroke-width="0.85"/>
<circle cx="447.10" cy="302.60" r="1.5" fill="#fff" stroke="#bb4be6" stroke-width="1.1"/>
<circle cx="448.50" cy="306.60" r="1.5" fill="#fff" stroke="#bb4be6" stroke-width="1.1"/>
<circle cx="447.50" cy="309.00" r="1.5" fill="#fff" stroke="#bb4be6" stroke-width="1.1"/>
<circle cx="448.30" cy="311.00" r="1.5" fill="#fff" stroke="#bb4be6" stroke-width="1.1"/>
<circle cx="447.20" cy="314.60" r="1.5" fill="#fff" stroke="#bb4be6" stroke-width="1.1"/>
<rect x="453.60" y="297.00" width="4.60" height="63.10" fill="#ddcbef" stroke="#cf96ec" stroke-width="1.4"/>
<text x="458.20" y="358.50" font-size="4.8" text-anchor="start" fill="#111" transform="rotate(-90 458.2 358.5)" stroke="#111" stroke-width="0.18">24959</text>
<line x1="455.90" y1="292.76" x2="455.90" y2="301.24" stroke="#444" stroke-width="0.85"/>
<circle cx="455.20" cy="290.00" r="1.5" fill="#fff" stroke="#bb4be6" stroke-width="1.1"/>
<circle cx="456.60" cy="292.00" r="1.5" fill="#fff" stroke="#bb4be6" stroke-width="1.1"/>
<circle cx="455.60" cy="295.00" r="1.5" fill="#fff" stroke="#bb4be6" stroke-width="1.1"/>
<circle cx="456.40" cy="298.00" r="1.5" fill="#fff" stroke="#bb4be6" stroke-width="1.1"/>
<circle cx="455.30" cy="300.60" r="1.5" fill="#fff" stroke="#bb4be6" stroke-width="1.1"/>
<rect x="461.70" y="303.00" width="4.60" height="57.10" fill="#ddcbef" stroke="#cf96ec" stroke-width="1.4"/>
<text x="466.30" y="358.50" font-size="4.8" text-anchor="start" fill="#111" transform="rotate(-90 466.3 358.5)" stroke="#111" stroke-width="0.18">10669</text>
<line x1="464.00" y1="298.81" x2="464.00" y2="307.19" stroke="#444" stroke-width="0.85"/>
<circle cx="463.30" cy="297.00" r="1.5" fill="#fff" stroke="#bb4be6" stroke-width="1.1"/>
<circle cx="464.70" cy="302.60" r="1.5" fill="#fff" stroke="#bb4be6" stroke-width="1.1"/>
<circle cx="463.70" cy="304.60" r="1.5" fill="#fff" stroke="#bb4be6" stroke-width="1.1"/>
<circle cx="464.50" cy="307.40" r="1.5" fill="#fff" stroke="#bb4be6" stroke-width="1.1"/>
<ellipse cx="477.60" cy="360.10" rx="2.3" ry="1.45" fill="white" stroke="#f59a3a" stroke-width="1.35"/>
<rect x="483.40" y="302.00" width="4.60" height="58.10" fill="#fde4cc" stroke="#f8bd80" stroke-width="1.4"/>
<text x="488.00" y="358.50" font-size="4.8" text-anchor="start" fill="#111" transform="rotate(-90 488.00000000000006 358.5)" stroke="#111" stroke-width="0.18">9277</text>
<line x1="485.70" y1="301.00" x2="485.70" y2="307.58" stroke="#444" stroke-width="0.85"/>
<circle cx="485.00" cy="300.00" r="1.5" fill="#fff" stroke="#f59a3a" stroke-width="1.1"/>
<circle cx="486.40" cy="302.00" r="1.5" fill="#fff" stroke="#f59a3a" stroke-width="1.1"/>
<circle cx="485.40" cy="304.00" r="1.5" fill="#fff" stroke="#f59a3a" stroke-width="1.1"/>
<circle cx="486.20" cy="309.00" r="1.5" fill="#fff" stroke="#f59a3a" stroke-width="1.1"/>
<circle cx="485.10" cy="314.00" r="1.5" fill="#fff" stroke="#f59a3a" stroke-width="1.1"/>
<rect x="491.50" y="293.00" width="4.60" height="67.10" fill="#fde4cc" stroke="#f8bd80" stroke-width="1.4"/>
<text x="496.10" y="358.50" font-size="4.8" text-anchor="start" fill="#111" transform="rotate(-90 496.1 358.5)" stroke="#111" stroke-width="0.18">30185</text>
<line x1="493.80" y1="290.00" x2="493.80" y2="296.33" stroke="#444" stroke-width="0.85"/>
<circle cx="493.10" cy="289.00" r="1.5" fill="#fff" stroke="#f59a3a" stroke-width="1.1"/>
<circle cx="494.50" cy="291.00" r="1.5" fill="#fff" stroke="#f59a3a" stroke-width="1.1"/>
<circle cx="493.50" cy="294.00" r="1.5" fill="#fff" stroke="#f59a3a" stroke-width="1.1"/>
<circle cx="494.30" cy="297.00" r="1.5" fill="#fff" stroke="#f59a3a" stroke-width="1.1"/>
<rect x="499.60" y="299.00" width="4.60" height="61.10" fill="#fde4cc" stroke="#f8bd80" stroke-width="1.4"/>
<text x="504.20" y="358.50" font-size="4.8" text-anchor="start" fill="#111" transform="rotate(-90 504.20000000000005 358.5)" stroke="#111" stroke-width="0.18">18153</text>
<line x1="501.90" y1="295.10" x2="501.90" y2="302.90" stroke="#444" stroke-width="0.85"/>
<circle cx="501.20" cy="293.00" r="1.5" fill="#fff" stroke="#f59a3a" stroke-width="1.1"/>
<circle cx="502.60" cy="296.00" r="1.5" fill="#fff" stroke="#f59a3a" stroke-width="1.1"/>
<circle cx="501.60" cy="298.00" r="1.5" fill="#fff" stroke="#f59a3a" stroke-width="1.1"/>
<circle cx="502.40" cy="301.00" r="1.5" fill="#fff" stroke="#f59a3a" stroke-width="1.1"/>
<circle cx="501.30" cy="303.00" r="1.5" fill="#fff" stroke="#f59a3a" stroke-width="1.1"/>
<ellipse cx="515.50" cy="360.10" rx="2.3" ry="1.45" fill="white" stroke="#404040" stroke-width="1.35"/>
<rect x="521.30" y="360.10" width="4.60" height="0.00" fill="#dddddd" stroke="#777" stroke-width="1.4"/>
<ellipse cx="523.60" cy="360.10" rx="2.3" ry="1.45" fill="white" stroke="#404040" stroke-width="1.35"/>
<rect x="529.40" y="360.10" width="4.60" height="0.00" fill="#dddddd" stroke="#777" stroke-width="1.4"/>
<ellipse cx="531.70" cy="360.10" rx="2.3" ry="1.45" fill="white" stroke="#404040" stroke-width="1.35"/>
<rect x="537.50" y="360.10" width="4.60" height="0.00" fill="#dddddd" stroke="#777" stroke-width="1.4"/>
<ellipse cx="539.80" cy="360.10" rx="2.3" ry="1.45" fill="white" stroke="#404040" stroke-width="1.35"/>
<line x1="318.50" y1="261.40" x2="321.00" y2="261.40" stroke="#555" stroke-width="1"/>
<text x="316.40" y="264.00" font-size="7.2" text-anchor="end" fill="#222" stroke="#222" stroke-width="0.15">10<tspan font-size="4.75" dx="0.72" dy="-1.87">6</tspan></text>
<line x1="318.50" y1="282.90" x2="321.00" y2="282.90" stroke="#555" stroke-width="1"/>
<text x="316.40" y="285.50" font-size="7.2" text-anchor="end" fill="#222" stroke="#222" stroke-width="0.15">10<tspan font-size="4.75" dx="0.72" dy="-1.87">5</tspan></text>
<line x1="318.50" y1="304.40" x2="321.00" y2="304.40" stroke="#555" stroke-width="1"/>
<text x="316.40" y="307.00" font-size="7.2" text-anchor="end" fill="#222" stroke="#222" stroke-width="0.15">10<tspan font-size="4.75" dx="0.72" dy="-1.87">4</tspan></text>
<line x1="318.50" y1="325.90" x2="321.00" y2="325.90" stroke="#555" stroke-width="1"/>
<text x="316.40" y="328.50" font-size="7.2" text-anchor="end" fill="#222" stroke="#222" stroke-width="0.15">10<tspan font-size="4.75" dx="0.72" dy="-1.87">3</tspan></text>
<line x1="318.50" y1="347.40" x2="321.00" y2="347.40" stroke="#555" stroke-width="1"/>
<text x="316.40" y="350.00" font-size="7.2" text-anchor="end" fill="#222" stroke="#222" stroke-width="0.15">10<tspan font-size="4.75" dx="0.72" dy="-1.87">2</tspan></text>
<line x1="326.00" y1="360.10" x2="326.00" y2="363.40" stroke="#555" stroke-width="0.9"/>
<text x="328.60" y="365.90" font-size="7.3" text-anchor="end" fill="#222" transform="rotate(-90 328.6 365.9)" stroke="#222" stroke-width="0.15">D0</text>
<line x1="334.10" y1="360.10" x2="334.10" y2="363.40" stroke="#555" stroke-width="0.9"/>
<text x="336.70" y="365.90" font-size="7.3" text-anchor="end" fill="#222" transform="rotate(-90 336.70000000000005 365.9)" stroke="#222" stroke-width="0.15">D28</text>
<line x1="342.20" y1="360.10" x2="342.20" y2="363.40" stroke="#555" stroke-width="0.9"/>
<text x="344.80" y="365.90" font-size="7.3" text-anchor="end" fill="#222" transform="rotate(-90 344.8 365.9)" stroke="#222" stroke-width="0.15">D42</text>
<line x1="350.30" y1="360.10" x2="350.30" y2="363.40" stroke="#555" stroke-width="0.9"/>
<text x="352.90" y="365.90" font-size="7.3" text-anchor="end" fill="#222" transform="rotate(-90 352.90000000000003 365.9)" stroke="#222" stroke-width="0.15">D56</text>
<text x="336.40" y="404.00" font-size="6.6" text-anchor="start" fill="#2f9e2f" transform="rotate(-90 336.40000000000003 404)" stroke="#2f9e2f" stroke-width="0.15">×1173.5</text>
<text x="344.50" y="404.00" font-size="6.6" text-anchor="start" fill="#2f9e2f" transform="rotate(-90 344.5 404)" stroke="#2f9e2f" stroke-width="0.15">×2.6</text>
<text x="352.60" y="404.00" font-size="6.6" text-anchor="start" fill="#ee2b2b" transform="rotate(-90 352.6 404)" stroke="#ee2b2b" stroke-width="0.15">×1.9</text>
<line x1="363.90" y1="360.10" x2="363.90" y2="363.40" stroke="#555" stroke-width="0.9"/>
<text x="366.50" y="365.90" font-size="7.3" text-anchor="end" fill="#222" transform="rotate(-90 366.5 365.9)" stroke="#222" stroke-width="0.15">D0</text>
<line x1="372.00" y1="360.10" x2="372.00" y2="363.40" stroke="#555" stroke-width="0.9"/>
<text x="374.60" y="365.90" font-size="7.3" text-anchor="end" fill="#222" transform="rotate(-90 374.6 365.9)" stroke="#222" stroke-width="0.15">D28</text>
<line x1="380.10" y1="360.10" x2="380.10" y2="363.40" stroke="#555" stroke-width="0.9"/>
<text x="382.70" y="365.90" font-size="7.3" text-anchor="end" fill="#222" transform="rotate(-90 382.7 365.9)" stroke="#222" stroke-width="0.15">D42</text>
<line x1="388.20" y1="360.10" x2="388.20" y2="363.40" stroke="#555" stroke-width="0.9"/>
<text x="390.80" y="365.90" font-size="7.3" text-anchor="end" fill="#222" transform="rotate(-90 390.8 365.9)" stroke="#222" stroke-width="0.15">D56</text>
<text x="374.30" y="404.00" font-size="6.6" text-anchor="start" fill="#2f9e2f" transform="rotate(-90 374.3 404)" stroke="#2f9e2f" stroke-width="0.15">×753</text>
<text x="382.40" y="404.00" font-size="6.6" text-anchor="start" fill="#2f9e2f" transform="rotate(-90 382.4 404)" stroke="#2f9e2f" stroke-width="0.15">×2.2</text>
<text x="390.50" y="404.00" font-size="6.6" text-anchor="start" fill="#ee2b2b" transform="rotate(-90 390.5 404)" stroke="#ee2b2b" stroke-width="0.15">×1.8</text>
<line x1="401.80" y1="360.10" x2="401.80" y2="363.40" stroke="#555" stroke-width="0.9"/>
<text x="404.40" y="365.90" font-size="7.3" text-anchor="end" fill="#222" transform="rotate(-90 404.40000000000003 365.9)" stroke="#222" stroke-width="0.15">D0</text>
<line x1="409.90" y1="360.10" x2="409.90" y2="363.40" stroke="#555" stroke-width="0.9"/>
<text x="412.50" y="365.90" font-size="7.3" text-anchor="end" fill="#222" transform="rotate(-90 412.50000000000006 365.9)" stroke="#222" stroke-width="0.15">D28</text>
<line x1="418.00" y1="360.10" x2="418.00" y2="363.40" stroke="#555" stroke-width="0.9"/>
<text x="420.60" y="365.90" font-size="7.3" text-anchor="end" fill="#222" transform="rotate(-90 420.6 365.9)" stroke="#222" stroke-width="0.15">D42</text>
<line x1="426.10" y1="360.10" x2="426.10" y2="363.40" stroke="#555" stroke-width="0.9"/>
<text x="428.70" y="365.90" font-size="7.3" text-anchor="end" fill="#222" transform="rotate(-90 428.70000000000005 365.9)" stroke="#222" stroke-width="0.15">D56</text>
<text x="412.20" y="404.00" font-size="6.6" text-anchor="start" fill="#2f9e2f" transform="rotate(-90 412.20000000000005 404)" stroke="#2f9e2f" stroke-width="0.15">×61.6</text>
<text x="420.30" y="404.00" font-size="6.6" text-anchor="start" fill="#2f9e2f" transform="rotate(-90 420.3 404)" stroke="#2f9e2f" stroke-width="0.15">×4.1</text>
<text x="428.40" y="404.00" font-size="6.6" text-anchor="start" fill="#ee2b2b" transform="rotate(-90 428.40000000000003 404)" stroke="#ee2b2b" stroke-width="0.15">×2</text>
<line x1="439.70" y1="360.10" x2="439.70" y2="363.40" stroke="#555" stroke-width="0.9"/>
<text x="442.30" y="365.90" font-size="7.3" text-anchor="end" fill="#222" transform="rotate(-90 442.3 365.9)" stroke="#222" stroke-width="0.15">D0</text>
<line x1="447.80" y1="360.10" x2="447.80" y2="363.40" stroke="#555" stroke-width="0.9"/>
<text x="450.40" y="365.90" font-size="7.3" text-anchor="end" fill="#222" transform="rotate(-90 450.40000000000003 365.9)" stroke="#222" stroke-width="0.15">D28</text>
<line x1="455.90" y1="360.10" x2="455.90" y2="363.40" stroke="#555" stroke-width="0.9"/>
<text x="458.50" y="365.90" font-size="7.3" text-anchor="end" fill="#222" transform="rotate(-90 458.5 365.9)" stroke="#222" stroke-width="0.15">D42</text>
<line x1="464.00" y1="360.10" x2="464.00" y2="363.40" stroke="#555" stroke-width="0.9"/>
<text x="466.60" y="365.90" font-size="7.3" text-anchor="end" fill="#222" transform="rotate(-90 466.6 365.9)" stroke="#222" stroke-width="0.15">D56</text>
<text x="450.10" y="404.00" font-size="6.6" text-anchor="start" fill="#2f9e2f" transform="rotate(-90 450.1 404)" stroke="#2f9e2f" stroke-width="0.15">×241.4</text>
<text x="458.20" y="404.00" font-size="6.6" text-anchor="start" fill="#2f9e2f" transform="rotate(-90 458.2 404)" stroke="#2f9e2f" stroke-width="0.15">×4.1</text>
<text x="466.30" y="404.00" font-size="6.6" text-anchor="start" fill="#ee2b2b" transform="rotate(-90 466.3 404)" stroke="#ee2b2b" stroke-width="0.15">×2.3</text>
<line x1="477.60" y1="360.10" x2="477.60" y2="363.40" stroke="#555" stroke-width="0.9"/>
<text x="480.20" y="365.90" font-size="7.3" text-anchor="end" fill="#222" transform="rotate(-90 480.20000000000005 365.9)" stroke="#222" stroke-width="0.15">D0</text>
<line x1="485.70" y1="360.10" x2="485.70" y2="363.40" stroke="#555" stroke-width="0.9"/>
<text x="488.30" y="365.90" font-size="7.3" text-anchor="end" fill="#222" transform="rotate(-90 488.30000000000007 365.9)" stroke="#222" stroke-width="0.15">D28</text>
<line x1="493.80" y1="360.10" x2="493.80" y2="363.40" stroke="#555" stroke-width="0.9"/>
<text x="496.40" y="365.90" font-size="7.3" text-anchor="end" fill="#222" transform="rotate(-90 496.40000000000003 365.9)" stroke="#222" stroke-width="0.15">D42</text>
<line x1="501.90" y1="360.10" x2="501.90" y2="363.40" stroke="#555" stroke-width="0.9"/>
<text x="504.50" y="365.90" font-size="7.3" text-anchor="end" fill="#222" transform="rotate(-90 504.50000000000006 365.9)" stroke="#222" stroke-width="0.15">D56</text>
<text x="488.00" y="404.00" font-size="6.6" text-anchor="start" fill="#2f9e2f" transform="rotate(-90 488.00000000000006 404)" stroke="#2f9e2f" stroke-width="0.15">×358.8</text>
<text x="496.10" y="404.00" font-size="6.6" text-anchor="start" fill="#2f9e2f" transform="rotate(-90 496.1 404)" stroke="#2f9e2f" stroke-width="0.15">×3.2</text>
<text x="504.20" y="404.00" font-size="6.6" text-anchor="start" fill="#ee2b2b" transform="rotate(-90 504.20000000000005 404)" stroke="#ee2b2b" stroke-width="0.15">×1.7</text>
<line x1="515.50" y1="360.10" x2="515.50" y2="363.40" stroke="#555" stroke-width="0.9"/>
<text x="518.10" y="365.90" font-size="7.3" text-anchor="end" fill="#222" transform="rotate(-90 518.1 365.9)" stroke="#222" stroke-width="0.15">D0</text>
<line x1="523.60" y1="360.10" x2="523.60" y2="363.40" stroke="#555" stroke-width="0.9"/>
<text x="526.20" y="365.90" font-size="7.3" text-anchor="end" fill="#222" transform="rotate(-90 526.2 365.9)" stroke="#222" stroke-width="0.15">D28</text>
<line x1="531.70" y1="360.10" x2="531.70" y2="363.40" stroke="#555" stroke-width="0.9"/>
<text x="534.30" y="365.90" font-size="7.3" text-anchor="end" fill="#222" transform="rotate(-90 534.3000000000001 365.9)" stroke="#222" stroke-width="0.15">D42</text>
<line x1="539.80" y1="360.10" x2="539.80" y2="363.40" stroke="#555" stroke-width="0.9"/>
<text x="542.40" y="365.90" font-size="7.3" text-anchor="end" fill="#222" transform="rotate(-90 542.4 365.9)" stroke="#222" stroke-width="0.15">D56</text>
<text x="338.30" y="238.20" font-size="8.4" text-anchor="middle" fill="#222" stroke="#222" stroke-width="0.15">Beta</text>
<text x="375.40" y="238.20" font-size="8.4" text-anchor="middle" fill="#222" stroke="#222" stroke-width="0.15">Delta</text>
<text x="412.50" y="238.20" font-size="8.4" text-anchor="middle" fill="#222" stroke="#222" stroke-width="0.15">Omicron</text>
<text x="452.50" y="228.00" font-size="8.4" text-anchor="middle" fill="#222" stroke="#222" stroke-width="0.15">Delta</text>
<text x="452.50" y="237.50" font-size="8.4" text-anchor="middle" fill="#222" stroke="#222" stroke-width="0.15">+Omi.</text>
<text x="491.50" y="228.00" font-size="8.4" text-anchor="middle" fill="#222" stroke="#222" stroke-width="0.15">Beta</text>
<text x="491.50" y="237.50" font-size="8.4" text-anchor="middle" fill="#222" stroke="#222" stroke-width="0.15">+Omi.</text>
<text x="526.00" y="238.20" font-size="8.4" text-anchor="middle" fill="#222" stroke="#222" stroke-width="0.15">PBS</text>
<text x="432.00" y="214.60" font-size="9.7" text-anchor="middle" fill="#222">Endpoints anti-DeltaRBD</text>
<text x="290.50" y="231.40" font-size="25" text-anchor="start" fill="#111" font-weight="bold">D</text>
<text x="297.20" y="310.00" font-size="8.1" text-anchor="middle" fill="#222" transform="rotate(-90 297.2 310)" stroke="#222" stroke-width="0.15">Endpoint titer</text>
<line x1="49.50" y1="467.50" x2="49.50" y2="568.80" stroke="#555" stroke-width="1"/>
<line x1="49.50" y1="568.80" x2="129.00" y2="568.80" stroke="#555" stroke-width="1"/>
<line x1="48.00" y1="558.67" x2="49.50" y2="558.67" stroke="#555" stroke-width="0.8"/>
<line x1="48.00" y1="548.54" x2="49.50" y2="548.54" stroke="#555" stroke-width="0.8"/>
<line x1="48.00" y1="538.41" x2="49.50" y2="538.41" stroke="#555" stroke-width="0.8"/>
<line x1="48.00" y1="528.28" x2="49.50" y2="528.28" stroke="#555" stroke-width="0.8"/>
<line x1="48.00" y1="508.02" x2="49.50" y2="508.02" stroke="#555" stroke-width="0.8"/>
<line x1="48.00" y1="497.89" x2="49.50" y2="497.89" stroke="#555" stroke-width="0.8"/>
<line x1="48.00" y1="487.76" x2="49.50" y2="487.76" stroke="#555" stroke-width="0.8"/>
<line x1="48.00" y1="477.63" x2="49.50" y2="477.63" stroke="#555" stroke-width="0.8"/>
<line x1="46.70" y1="467.50" x2="49.50" y2="467.50" stroke="#555" stroke-width="1"/>
<text x="44.50" y="470.10" font-size="7.3" text-anchor="end" fill="#222" stroke="#222" stroke-width="0.15">100</text>
<line x1="46.70" y1="518.15" x2="49.50" y2="518.15" stroke="#555" stroke-width="1"/>
<text x="44.50" y="520.75" font-size="7.3" text-anchor="end" fill="#222" stroke="#222" stroke-width="0.15">50</text>
<line x1="46.70" y1="568.80" x2="49.50" y2="568.80" stroke="#555" stroke-width="1"/>
<text x="44.50" y="571.40" font-size="7.3" text-anchor="end" fill="#222" stroke="#222" stroke-width="0.15">0</text>
<line x1="49.50" y1="568.80" x2="49.50" y2="571.30" stroke="#555" stroke-width="1"/>
<text x="50.10" y="581.20" font-size="7.2" text-anchor="middle" fill="#222" stroke="#222" stroke-width="0.15">10<tspan font-size="4.75" dx="0.72" dy="-1.87">1</tspan></text>
<line x1="76.00" y1="568.80" x2="76.00" y2="571.30" stroke="#555" stroke-width="1"/>
<text x="76.60" y="581.20" font-size="7.2" text-anchor="middle" fill="#222" stroke="#222" stroke-width="0.15">10<tspan font-size="4.75" dx="0.72" dy="-1.87">2</tspan></text>
<line x1="102.50" y1="568.80" x2="102.50" y2="571.30" stroke="#555" stroke-width="1"/>
<text x="103.10" y="581.20" font-size="7.2" text-anchor="middle" fill="#222" stroke="#222" stroke-width="0.15">10<tspan font-size="4.75" dx="0.72" dy="-1.87">3</tspan></text>
<line x1="129.00" y1="568.80" x2="129.00" y2="571.30" stroke="#555" stroke-width="1"/>
<text x="129.60" y="581.20" font-size="7.2" text-anchor="middle" fill="#222" stroke="#222" stroke-width="0.15">10<tspan font-size="4.75" dx="0.72" dy="-1.87">4</tspan></text>
<text x="89.25" y="593.80" font-size="8.6" text-anchor="middle" fill="#222" stroke="#222" stroke-width="0.15">nAb (U/ml)</text>
<text x="88.00" y="453.60" font-size="10.2" text-anchor="middle" fill="#222">D614G-RBD</text>
<text x="4.60" y="454.40" font-size="25" text-anchor="start" fill="#111" font-weight="bold">E</text>
<path d="M66.91,516.12 C68.48,512.34 73.18,499.85 76.32,493.43 C79.45,487.02 82.59,481.16 85.73,477.63 C88.86,474.10 92.00,473.24 95.13,472.26 C98.27,471.28 101.40,471.87 104.54,471.75 C107.68,471.64 110.81,471.59 113.95,471.55 C117.08,471.52 121.79,471.55 123.36,471.55" fill="none" stroke="#333" stroke-width="1.1" stroke-dasharray="1.3,1.6" stroke-linejoin="round"/>
<circle cx="66.91" cy="516.12" r="1.7" fill="white" stroke="#555" stroke-width="0.9"/>
<circle cx="76.32" cy="493.43" r="1.7" fill="white" stroke="#555" stroke-width="0.9"/>
<circle cx="85.73" cy="477.63" r="1.7" fill="white" stroke="#555" stroke-width="0.9"/>
<circle cx="95.13" cy="472.26" r="1.7" fill="white" stroke="#555" stroke-width="0.9"/>
<circle cx="104.54" cy="471.75" r="1.7" fill="white" stroke="#555" stroke-width="0.9"/>
<circle cx="113.95" cy="471.55" r="1.7" fill="white" stroke="#555" stroke-width="0.9"/>
<circle cx="123.36" cy="471.55" r="1.7" fill="white" stroke="#555" stroke-width="0.9"/>
<path d="M66.91,548.54 C68.48,545.16 73.18,535.20 76.32,528.28 C79.45,521.36 82.59,512.36 85.73,507.01 C88.86,501.65 92.00,499.12 95.13,496.17 C98.27,493.21 101.40,491.41 104.54,489.28 C107.68,487.15 110.81,484.97 113.95,483.40 C117.08,481.83 121.79,480.45 123.36,479.86" fill="none" stroke="#f59a3a" stroke-width="1.0" stroke-linejoin="round"/>
<circle cx="66.91" cy="548.54" r="1.7" fill="white" stroke="#f59a3a" stroke-width="0.9"/>
<circle cx="76.32" cy="528.28" r="1.7" fill="white" stroke="#f59a3a" stroke-width="0.9"/>
<circle cx="85.73" cy="507.01" r="1.7" fill="white" stroke="#f59a3a" stroke-width="0.9"/>
<circle cx="95.13" cy="496.17" r="1.7" fill="white" stroke="#f59a3a" stroke-width="0.9"/>
<circle cx="104.54" cy="489.28" r="1.7" fill="white" stroke="#f59a3a" stroke-width="0.9"/>
<circle cx="113.95" cy="483.40" r="1.7" fill="white" stroke="#f59a3a" stroke-width="0.9"/>
<circle cx="123.36" cy="479.86" r="1.7" fill="white" stroke="#f59a3a" stroke-width="0.9"/>
<path d="M66.91,558.67 C68.48,555.19 73.18,544.61 76.32,537.80 C79.45,531.00 82.59,523.72 85.73,517.85 C88.86,511.97 92.00,507.02 95.13,502.55 C98.27,498.08 101.40,494.11 104.54,491.00 C107.68,487.90 110.81,485.72 113.95,483.91 C117.08,482.10 121.79,480.79 123.36,480.16" fill="none" stroke="#ee3a3a" stroke-width="1.0" stroke-linejoin="round"/>
<circle cx="66.91" cy="558.67" r="1.7" fill="white" stroke="#ee3a3a" stroke-width="0.9"/>
<circle cx="76.32" cy="537.80" r="1.7" fill="white" stroke="#ee3a3a" stroke-width="0.9"/>
<circle cx="85.73" cy="517.85" r="1.7" fill="white" stroke="#ee3a3a" stroke-width="0.9"/>
<circle cx="95.13" cy="502.55" r="1.7" fill="white" stroke="#ee3a3a" stroke-width="0.9"/>
<circle cx="104.54" cy="491.00" r="1.7" fill="white" stroke="#ee3a3a" stroke-width="0.9"/>
<circle cx="113.95" cy="483.91" r="1.7" fill="white" stroke="#ee3a3a" stroke-width="0.9"/>
<circle cx="123.36" cy="480.16" r="1.7" fill="white" stroke="#ee3a3a" stroke-width="0.9"/>
<path d="M66.91,563.53 C68.48,561.54 73.18,556.68 76.32,551.58 C79.45,546.48 82.59,540.01 85.73,532.94 C88.86,525.87 92.00,516.56 95.13,509.13 C98.27,501.71 101.40,493.85 104.54,488.37 C107.68,482.88 110.81,478.85 113.95,476.21 C117.08,473.58 121.79,473.17 123.36,472.56" fill="none" stroke="#bb4be6" stroke-width="1.0" stroke-linejoin="round"/>
<circle cx="66.91" cy="563.53" r="1.7" fill="white" stroke="#bb4be6" stroke-width="0.9"/>
<circle cx="76.32" cy="551.58" r="1.7" fill="white" stroke="#bb4be6" stroke-width="0.9"/>
<circle cx="85.73" cy="532.94" r="1.7" fill="white" stroke="#bb4be6" stroke-width="0.9"/>
<circle cx="95.13" cy="509.13" r="1.7" fill="white" stroke="#bb4be6" stroke-width="0.9"/>
<circle cx="104.54" cy="488.37" r="1.7" fill="white" stroke="#bb4be6" stroke-width="0.9"/>
<circle cx="113.95" cy="476.21" r="1.7" fill="white" stroke="#bb4be6" stroke-width="0.9"/>
<circle cx="123.36" cy="472.56" r="1.7" fill="white" stroke="#bb4be6" stroke-width="0.9"/>
<path d="M76.32,568.80 C77.89,567.96 82.59,566.54 85.73,563.73 C88.86,560.93 92.00,555.19 95.13,551.98 C98.27,548.78 101.40,547.90 104.54,544.49 C107.68,541.08 110.81,534.83 113.95,531.52 C117.08,528.21 121.79,525.78 123.36,524.63" fill="none" stroke="#3cc43c" stroke-width="1.0" stroke-linejoin="round"/>
<circle cx="76.32" cy="568.80" r="1.7" fill="white" stroke="#3cc43c" stroke-width="0.9"/>
<circle cx="85.73" cy="563.73" r="1.7" fill="white" stroke="#3cc43c" stroke-width="0.9"/>
<circle cx="95.13" cy="551.98" r="1.7" fill="white" stroke="#3cc43c" stroke-width="0.9"/>
<circle cx="104.54" cy="544.49" r="1.7" fill="white" stroke="#3cc43c" stroke-width="0.9"/>
<circle cx="113.95" cy="531.52" r="1.7" fill="white" stroke="#3cc43c" stroke-width="0.9"/>
<circle cx="123.36" cy="524.63" r="1.7" fill="white" stroke="#3cc43c" stroke-width="0.9"/>
<path d="M66.91,548.84 C68.48,543.73 73.18,527.66 76.32,518.15 C79.45,508.64 82.59,498.35 85.73,491.81 C88.86,485.28 92.00,481.90 95.13,478.95 C98.27,475.99 101.40,475.23 104.54,474.08 C107.68,472.94 110.81,472.45 113.95,472.06 C117.08,471.67 121.79,471.81 123.36,471.75" fill="none" stroke="#3c3cf0" stroke-width="1.0" stroke-linejoin="round"/>
<circle cx="66.91" cy="548.84" r="1.7" fill="white" stroke="#3c3cf0" stroke-width="0.9"/>
<circle cx="76.32" cy="518.15" r="1.7" fill="white" stroke="#3c3cf0" stroke-width="0.9"/>
<circle cx="85.73" cy="491.81" r="1.7" fill="white" stroke="#3c3cf0" stroke-width="0.9"/>
<circle cx="95.13" cy="478.95" r="1.7" fill="white" stroke="#3c3cf0" stroke-width="0.9"/>
<circle cx="104.54" cy="474.08" r="1.7" fill="white" stroke="#3c3cf0" stroke-width="0.9"/>
<circle cx="113.95" cy="472.06" r="1.7" fill="white" stroke="#3c3cf0" stroke-width="0.9"/>
<circle cx="123.36" cy="471.75" r="1.7" fill="white" stroke="#3c3cf0" stroke-width="0.9"/>
<line x1="181.30" y1="467.50" x2="181.30" y2="568.80" stroke="#555" stroke-width="1"/>
<line x1="181.30" y1="568.80" x2="261.10" y2="568.80" stroke="#555" stroke-width="1"/>
<line x1="179.80" y1="558.67" x2="181.30" y2="558.67" stroke="#555" stroke-width="0.8"/>
<line x1="179.80" y1="548.54" x2="181.30" y2="548.54" stroke="#555" stroke-width="0.8"/>
<line x1="179.80" y1="538.41" x2="181.30" y2="538.41" stroke="#555" stroke-width="0.8"/>
<line x1="179.80" y1="528.28" x2="181.30" y2="528.28" stroke="#555" stroke-width="0.8"/>
<line x1="179.80" y1="508.02" x2="181.30" y2="508.02" stroke="#555" stroke-width="0.8"/>
<line x1="179.80" y1="497.89" x2="181.30" y2="497.89" stroke="#555" stroke-width="0.8"/>
<line x1="179.80" y1="487.76" x2="181.30" y2="487.76" stroke="#555" stroke-width="0.8"/>
<line x1="179.80" y1="477.63" x2="181.30" y2="477.63" stroke="#555" stroke-width="0.8"/>
<line x1="178.50" y1="467.50" x2="181.30" y2="467.50" stroke="#555" stroke-width="1"/>
<text x="176.30" y="470.10" font-size="7.3" text-anchor="end" fill="#222" stroke="#222" stroke-width="0.15">100</text>
<line x1="178.50" y1="518.15" x2="181.30" y2="518.15" stroke="#555" stroke-width="1"/>
<text x="176.30" y="520.75" font-size="7.3" text-anchor="end" fill="#222" stroke="#222" stroke-width="0.15">50</text>
<line x1="178.50" y1="568.80" x2="181.30" y2="568.80" stroke="#555" stroke-width="1"/>
<text x="176.30" y="571.40" font-size="7.3" text-anchor="end" fill="#222" stroke="#222" stroke-width="0.15">0</text>
<line x1="181.30" y1="568.80" x2="181.30" y2="571.30" stroke="#555" stroke-width="1"/>
<text x="181.90" y="581.20" font-size="7.2" text-anchor="middle" fill="#222" stroke="#222" stroke-width="0.15">10<tspan font-size="4.75" dx="0.72" dy="-1.87">1</tspan></text>
<line x1="207.90" y1="568.80" x2="207.90" y2="571.30" stroke="#555" stroke-width="1"/>
<text x="208.50" y="581.20" font-size="7.2" text-anchor="middle" fill="#222" stroke="#222" stroke-width="0.15">10<tspan font-size="4.75" dx="0.72" dy="-1.87">2</tspan></text>
<line x1="234.50" y1="568.80" x2="234.50" y2="571.30" stroke="#555" stroke-width="1"/>
<text x="235.10" y="581.20" font-size="7.2" text-anchor="middle" fill="#222" stroke="#222" stroke-width="0.15">10<tspan font-size="4.75" dx="0.72" dy="-1.87">3</tspan></text>
<line x1="261.10" y1="568.80" x2="261.10" y2="571.30" stroke="#555" stroke-width="1"/>
<text x="261.70" y="581.20" font-size="7.2" text-anchor="middle" fill="#222" stroke="#222" stroke-width="0.15">10<tspan font-size="4.75" dx="0.72" dy="-1.87">4</tspan></text>
<text x="221.20" y="593.80" font-size="8.6" text-anchor="middle" fill="#222" stroke="#222" stroke-width="0.15">nAb (U/ml)</text>
<text x="221.30" y="453.60" font-size="9.8" text-anchor="middle" fill="#222">Beta-RBD</text>
<text x="157.10" y="452.80" font-size="25" text-anchor="start" fill="#111" font-weight="bold">F</text>
<path d="M198.78,535.37 C200.35,532.59 205.07,523.52 208.22,518.66 C211.37,513.79 214.51,509.88 217.66,506.20 C220.81,502.52 223.96,499.14 227.11,496.57 C230.25,494.01 233.40,492.35 236.55,490.80 C239.70,489.25 242.84,488.01 245.99,487.25 C249.14,486.49 253.86,486.41 255.43,486.24" fill="none" stroke="#333" stroke-width="1.1" stroke-dasharray="1.3,1.6" stroke-linejoin="round"/>
<circle cx="198.78" cy="535.37" r="1.7" fill="white" stroke="#555" stroke-width="0.9"/>
<circle cx="208.22" cy="518.66" r="1.7" fill="white" stroke="#555" stroke-width="0.9"/>
<circle cx="217.66" cy="506.20" r="1.7" fill="white" stroke="#555" stroke-width="0.9"/>
<circle cx="227.11" cy="496.57" r="1.7" fill="white" stroke="#555" stroke-width="0.9"/>
<circle cx="236.55" cy="490.80" r="1.7" fill="white" stroke="#555" stroke-width="0.9"/>
<circle cx="245.99" cy="487.25" r="1.7" fill="white" stroke="#555" stroke-width="0.9"/>
<circle cx="255.43" cy="486.24" r="1.7" fill="white" stroke="#555" stroke-width="0.9"/>
<path d="M198.78,549.05 C200.35,547.27 205.07,543.15 208.22,538.41 C211.37,533.67 214.51,526.32 217.66,520.58 C220.81,514.84 223.96,508.85 227.11,503.97 C230.25,499.09 233.40,494.77 236.55,491.31 C239.70,487.84 242.84,485.38 245.99,483.20 C249.14,481.02 253.86,479.07 255.43,478.24" fill="none" stroke="#f59a3a" stroke-width="1.0" stroke-linejoin="round"/>
<circle cx="198.78" cy="549.05" r="1.7" fill="white" stroke="#f59a3a" stroke-width="0.9"/>
<circle cx="208.22" cy="538.41" r="1.7" fill="white" stroke="#f59a3a" stroke-width="0.9"/>
<circle cx="217.66" cy="520.58" r="1.7" fill="white" stroke="#f59a3a" stroke-width="0.9"/>
<circle cx="227.11" cy="503.97" r="1.7" fill="white" stroke="#f59a3a" stroke-width="0.9"/>
<circle cx="236.55" cy="491.31" r="1.7" fill="white" stroke="#f59a3a" stroke-width="0.9"/>
<circle cx="245.99" cy="483.20" r="1.7" fill="white" stroke="#f59a3a" stroke-width="0.9"/>
<circle cx="255.43" cy="478.24" r="1.7" fill="white" stroke="#f59a3a" stroke-width="0.9"/>
<path d="M198.78,561.41 C200.35,560.21 205.07,557.37 208.22,554.21 C211.37,551.06 214.51,546.70 217.66,542.46 C220.81,538.22 223.96,533.92 227.11,528.79 C230.25,523.65 233.40,517.41 236.55,511.67 C239.70,505.93 242.84,498.92 245.99,494.34 C249.14,489.77 253.86,485.90 255.43,484.21" fill="none" stroke="#ee3a3a" stroke-width="1.0" stroke-linejoin="round"/>
<circle cx="198.78" cy="561.41" r="1.7" fill="white" stroke="#ee3a3a" stroke-width="0.9"/>
<circle cx="208.22" cy="554.21" r="1.7" fill="white" stroke="#ee3a3a" stroke-width="0.9"/>
<circle cx="217.66" cy="542.46" r="1.7" fill="white" stroke="#ee3a3a" stroke-width="0.9"/>
<circle cx="227.11" cy="528.79" r="1.7" fill="white" stroke="#ee3a3a" stroke-width="0.9"/>
<circle cx="236.55" cy="511.67" r="1.7" fill="white" stroke="#ee3a3a" stroke-width="0.9"/>
<circle cx="245.99" cy="494.34" r="1.7" fill="white" stroke="#ee3a3a" stroke-width="0.9"/>
<circle cx="255.43" cy="484.21" r="1.7" fill="white" stroke="#ee3a3a" stroke-width="0.9"/>
<path d="M198.78,561.71 C200.35,560.53 205.07,557.44 208.22,554.62 C211.37,551.80 214.51,548.17 217.66,544.79 C220.81,541.42 223.96,538.12 227.11,534.36 C230.25,530.59 233.40,526.41 236.55,522.20 C239.70,518.00 242.84,512.68 245.99,509.13 C249.14,505.59 253.86,502.30 255.43,500.93" fill="none" stroke="#bb4be6" stroke-width="1.0" stroke-linejoin="round"/>
<circle cx="198.78" cy="561.71" r="1.7" fill="white" stroke="#bb4be6" stroke-width="0.9"/>
<circle cx="208.22" cy="554.62" r="1.7" fill="white" stroke="#bb4be6" stroke-width="0.9"/>
<circle cx="217.66" cy="544.79" r="1.7" fill="white" stroke="#bb4be6" stroke-width="0.9"/>
<circle cx="227.11" cy="534.36" r="1.7" fill="white" stroke="#bb4be6" stroke-width="0.9"/>
<circle cx="236.55" cy="522.20" r="1.7" fill="white" stroke="#bb4be6" stroke-width="0.9"/>
<circle cx="245.99" cy="509.13" r="1.7" fill="white" stroke="#bb4be6" stroke-width="0.9"/>
<circle cx="255.43" cy="500.93" r="1.7" fill="white" stroke="#bb4be6" stroke-width="0.9"/>
<path d="M198.78,568.29 C200.35,567.36 205.07,564.09 208.22,562.72 C211.37,561.35 214.51,561.57 217.66,560.09 C220.81,558.60 223.96,555.46 227.11,553.81 C230.25,552.15 233.40,552.32 236.55,550.16 C239.70,548.00 242.84,543.54 245.99,540.84 C249.14,538.14 253.86,535.10 255.43,533.95" fill="none" stroke="#3cc43c" stroke-width="1.0" stroke-linejoin="round"/>
<circle cx="198.78" cy="568.29" r="1.7" fill="white" stroke="#3cc43c" stroke-width="0.9"/>
<circle cx="208.22" cy="562.72" r="1.7" fill="white" stroke="#3cc43c" stroke-width="0.9"/>
<circle cx="217.66" cy="560.09" r="1.7" fill="white" stroke="#3cc43c" stroke-width="0.9"/>
<circle cx="227.11" cy="553.81" r="1.7" fill="white" stroke="#3cc43c" stroke-width="0.9"/>
<circle cx="236.55" cy="550.16" r="1.7" fill="white" stroke="#3cc43c" stroke-width="0.9"/>
<circle cx="245.99" cy="540.84" r="1.7" fill="white" stroke="#3cc43c" stroke-width="0.9"/>
<circle cx="255.43" cy="533.95" r="1.7" fill="white" stroke="#3cc43c" stroke-width="0.9"/>
<path d="M198.78,547.83 C200.35,543.93 205.07,531.74 208.22,524.43 C211.37,517.12 214.51,510.32 217.66,503.97 C220.81,497.62 223.96,490.82 227.11,486.34 C230.25,481.87 233.40,479.42 236.55,477.12 C239.70,474.83 242.84,473.66 245.99,472.56 C249.14,471.47 253.86,470.88 255.43,470.54" fill="none" stroke="#3c3cf0" stroke-width="1.0" stroke-linejoin="round"/>
<circle cx="198.78" cy="547.83" r="1.7" fill="white" stroke="#3c3cf0" stroke-width="0.9"/>
<circle cx="208.22" cy="524.43" r="1.7" fill="white" stroke="#3c3cf0" stroke-width="0.9"/>
<circle cx="217.66" cy="503.97" r="1.7" fill="white" stroke="#3c3cf0" stroke-width="0.9"/>
<circle cx="227.11" cy="486.34" r="1.7" fill="white" stroke="#3c3cf0" stroke-width="0.9"/>
<circle cx="236.55" cy="477.12" r="1.7" fill="white" stroke="#3c3cf0" stroke-width="0.9"/>
<circle cx="245.99" cy="472.56" r="1.7" fill="white" stroke="#3c3cf0" stroke-width="0.9"/>
<circle cx="255.43" cy="470.54" r="1.7" fill="white" stroke="#3c3cf0" stroke-width="0.9"/>
<line x1="321.20" y1="467.50" x2="321.20" y2="568.80" stroke="#555" stroke-width="1"/>
<line x1="321.20" y1="568.80" x2="400.40" y2="568.80" stroke="#555" stroke-width="1"/>
<line x1="319.70" y1="558.67" x2="321.20" y2="558.67" stroke="#555" stroke-width="0.8"/>
<line x1="319.70" y1="548.54" x2="321.20" y2="548.54" stroke="#555" stroke-width="0.8"/>
<line x1="319.70" y1="538.41" x2="321.20" y2="538.41" stroke="#555" stroke-width="0.8"/>
<line x1="319.70" y1="528.28" x2="321.20" y2="528.28" stroke="#555" stroke-width="0.8"/>
<line x1="319.70" y1="508.02" x2="321.20" y2="508.02" stroke="#555" stroke-width="0.8"/>
<line x1="319.70" y1="497.89" x2="321.20" y2="497.89" stroke="#555" stroke-width="0.8"/>
<line x1="319.70" y1="487.76" x2="321.20" y2="487.76" stroke="#555" stroke-width="0.8"/>
<line x1="319.70" y1="477.63" x2="321.20" y2="477.63" stroke="#555" stroke-width="0.8"/>
<line x1="318.40" y1="467.50" x2="321.20" y2="467.50" stroke="#555" stroke-width="1"/>
<text x="316.20" y="470.10" font-size="7.3" text-anchor="end" fill="#222" stroke="#222" stroke-width="0.15">100</text>
<line x1="318.40" y1="518.15" x2="321.20" y2="518.15" stroke="#555" stroke-width="1"/>
<text x="316.20" y="520.75" font-size="7.3" text-anchor="end" fill="#222" stroke="#222" stroke-width="0.15">50</text>
<line x1="318.40" y1="568.80" x2="321.20" y2="568.80" stroke="#555" stroke-width="1"/>
<text x="316.20" y="571.40" font-size="7.3" text-anchor="end" fill="#222" stroke="#222" stroke-width="0.15">0</text>
<line x1="321.20" y1="568.80" x2="321.20" y2="571.30" stroke="#555" stroke-width="1"/>
<text x="321.80" y="581.20" font-size="7.2" text-anchor="middle" fill="#222" stroke="#222" stroke-width="0.15">10<tspan font-size="4.75" dx="0.72" dy="-1.87">1</tspan></text>
<line x1="347.60" y1="568.80" x2="347.60" y2="571.30" stroke="#555" stroke-width="1"/>
<text x="348.20" y="581.20" font-size="7.2" text-anchor="middle" fill="#222" stroke="#222" stroke-width="0.15">10<tspan font-size="4.75" dx="0.72" dy="-1.87">2</tspan></text>
<line x1="374.00" y1="568.80" x2="374.00" y2="571.30" stroke="#555" stroke-width="1"/>
<text x="374.60" y="581.20" font-size="7.2" text-anchor="middle" fill="#222" stroke="#222" stroke-width="0.15">10<tspan font-size="4.75" dx="0.72" dy="-1.87">3</tspan></text>
<line x1="400.40" y1="568.80" x2="400.40" y2="571.30" stroke="#555" stroke-width="1"/>
<text x="401.00" y="581.20" font-size="7.2" text-anchor="middle" fill="#222" stroke="#222" stroke-width="0.15">10<tspan font-size="4.75" dx="0.72" dy="-1.87">4</tspan></text>
<text x="360.80" y="593.80" font-size="8.6" text-anchor="middle" fill="#222" stroke="#222" stroke-width="0.15">nAb (U/ml)</text>
<text x="361.00" y="453.60" font-size="9.8" text-anchor="middle" fill="#222">Delta-RBD</text>
<text x="287.00" y="453.80" font-size="26" text-anchor="start" fill="#111" font-weight="bold">G</text>
<path d="M338.54,521.70 C340.11,517.93 344.79,505.66 347.92,499.11 C351.04,492.55 354.16,486.70 357.29,482.39 C360.41,478.09 363.54,475.17 366.66,473.27 C369.78,471.38 372.91,471.42 376.03,471.05 C379.16,470.67 382.28,471.05 385.40,471.05 C388.53,471.05 393.21,471.05 394.78,471.05" fill="none" stroke="#333" stroke-width="1.1" stroke-dasharray="1.3,1.6" stroke-linejoin="round"/>
<circle cx="338.54" cy="521.70" r="1.7" fill="white" stroke="#555" stroke-width="0.9"/>
<circle cx="347.92" cy="499.11" r="1.7" fill="white" stroke="#555" stroke-width="0.9"/>
<circle cx="357.29" cy="482.39" r="1.7" fill="white" stroke="#555" stroke-width="0.9"/>
<circle cx="366.66" cy="473.27" r="1.7" fill="white" stroke="#555" stroke-width="0.9"/>
<circle cx="376.03" cy="471.05" r="1.7" fill="white" stroke="#555" stroke-width="0.9"/>
<circle cx="385.40" cy="471.05" r="1.7" fill="white" stroke="#555" stroke-width="0.9"/>
<circle cx="394.78" cy="471.05" r="1.7" fill="white" stroke="#555" stroke-width="0.9"/>
<path d="M338.54,533.35 C340.11,530.81 344.79,523.47 347.92,518.15 C351.04,512.83 354.16,506.50 357.29,501.44 C360.41,496.37 363.54,491.61 366.66,487.76 C369.78,483.91 372.91,480.80 376.03,478.34 C379.16,475.87 382.28,474.14 385.40,472.97 C388.53,471.81 393.21,471.62 394.78,471.35" fill="none" stroke="#f59a3a" stroke-width="1.0" stroke-linejoin="round"/>
<circle cx="338.54" cy="533.35" r="1.7" fill="white" stroke="#f59a3a" stroke-width="0.9"/>
<circle cx="347.92" cy="518.15" r="1.7" fill="white" stroke="#f59a3a" stroke-width="0.9"/>
<circle cx="357.29" cy="501.44" r="1.7" fill="white" stroke="#f59a3a" stroke-width="0.9"/>
<circle cx="366.66" cy="487.76" r="1.7" fill="white" stroke="#f59a3a" stroke-width="0.9"/>
<circle cx="376.03" cy="478.34" r="1.7" fill="white" stroke="#f59a3a" stroke-width="0.9"/>
<circle cx="385.40" cy="472.97" r="1.7" fill="white" stroke="#f59a3a" stroke-width="0.9"/>
<circle cx="394.78" cy="471.35" r="1.7" fill="white" stroke="#f59a3a" stroke-width="0.9"/>
<path d="M338.54,541.45 C340.11,538.60 344.79,529.39 347.92,524.33 C351.04,519.26 354.16,515.38 357.29,511.06 C360.41,506.74 363.54,501.87 366.66,498.40 C369.78,494.92 372.91,492.54 376.03,490.19 C379.16,487.84 382.28,485.84 385.40,484.32 C388.53,482.80 393.21,481.61 394.78,481.07" fill="none" stroke="#ee3a3a" stroke-width="1.0" stroke-linejoin="round"/>
<circle cx="338.54" cy="541.45" r="1.7" fill="white" stroke="#ee3a3a" stroke-width="0.9"/>
<circle cx="347.92" cy="524.33" r="1.7" fill="white" stroke="#ee3a3a" stroke-width="0.9"/>
<circle cx="357.29" cy="511.06" r="1.7" fill="white" stroke="#ee3a3a" stroke-width="0.9"/>
<circle cx="366.66" cy="498.40" r="1.7" fill="white" stroke="#ee3a3a" stroke-width="0.9"/>
<circle cx="376.03" cy="490.19" r="1.7" fill="white" stroke="#ee3a3a" stroke-width="0.9"/>
<circle cx="385.40" cy="484.32" r="1.7" fill="white" stroke="#ee3a3a" stroke-width="0.9"/>
<circle cx="394.78" cy="481.07" r="1.7" fill="white" stroke="#ee3a3a" stroke-width="0.9"/>
<path d="M338.54,545.91 C340.11,544.18 344.79,539.86 347.92,535.57 C351.04,531.29 354.16,526.25 357.29,520.18 C360.41,514.10 363.54,505.57 366.66,499.11 C369.78,492.64 372.91,485.73 376.03,481.38 C379.16,477.02 382.28,474.64 385.40,472.97 C388.53,471.30 393.21,471.62 394.78,471.35" fill="none" stroke="#bb4be6" stroke-width="1.0" stroke-linejoin="round"/>
<circle cx="338.54" cy="545.91" r="1.7" fill="white" stroke="#bb4be6" stroke-width="0.9"/>
<circle cx="347.92" cy="535.57" r="1.7" fill="white" stroke="#bb4be6" stroke-width="0.9"/>
<circle cx="357.29" cy="520.18" r="1.7" fill="white" stroke="#bb4be6" stroke-width="0.9"/>
<circle cx="366.66" cy="499.11" r="1.7" fill="white" stroke="#bb4be6" stroke-width="0.9"/>
<circle cx="376.03" cy="481.38" r="1.7" fill="white" stroke="#bb4be6" stroke-width="0.9"/>
<circle cx="385.40" cy="472.97" r="1.7" fill="white" stroke="#bb4be6" stroke-width="0.9"/>
<circle cx="394.78" cy="471.35" r="1.7" fill="white" stroke="#bb4be6" stroke-width="0.9"/>
<path d="M338.54,558.67 C340.11,557.91 344.79,555.34 347.92,554.11 C351.04,552.88 354.16,552.56 357.29,551.28 C360.41,549.99 363.54,548.22 366.66,546.41 C369.78,544.61 372.91,542.78 376.03,540.44 C379.16,538.09 382.28,534.27 385.40,532.33 C388.53,530.39 393.21,529.38 394.78,528.79" fill="none" stroke="#3cc43c" stroke-width="1.0" stroke-linejoin="round"/>
<circle cx="338.54" cy="558.67" r="1.7" fill="white" stroke="#3cc43c" stroke-width="0.9"/>
<circle cx="347.92" cy="554.11" r="1.7" fill="white" stroke="#3cc43c" stroke-width="0.9"/>
<circle cx="357.29" cy="551.28" r="1.7" fill="white" stroke="#3cc43c" stroke-width="0.9"/>
<circle cx="366.66" cy="546.41" r="1.7" fill="white" stroke="#3cc43c" stroke-width="0.9"/>
<circle cx="376.03" cy="540.44" r="1.7" fill="white" stroke="#3cc43c" stroke-width="0.9"/>
<circle cx="385.40" cy="532.33" r="1.7" fill="white" stroke="#3cc43c" stroke-width="0.9"/>
<circle cx="394.78" cy="528.79" r="1.7" fill="white" stroke="#3cc43c" stroke-width="0.9"/>
<path d="M338.54,534.36 C340.11,530.68 344.79,519.25 347.92,512.27 C351.04,505.30 354.16,498.21 357.29,492.52 C360.41,486.83 363.54,481.39 366.66,478.14 C369.78,474.88 372.91,474.10 376.03,472.97 C379.16,471.84 382.28,471.62 385.40,471.35 C388.53,471.08 393.21,471.35 394.78,471.35" fill="none" stroke="#3c3cf0" stroke-width="1.0" stroke-linejoin="round"/>
<circle cx="338.54" cy="534.36" r="1.7" fill="white" stroke="#3c3cf0" stroke-width="0.9"/>
<circle cx="347.92" cy="512.27" r="1.7" fill="white" stroke="#3c3cf0" stroke-width="0.9"/>
<circle cx="357.29" cy="492.52" r="1.7" fill="white" stroke="#3c3cf0" stroke-width="0.9"/>
<circle cx="366.66" cy="478.14" r="1.7" fill="white" stroke="#3c3cf0" stroke-width="0.9"/>
<circle cx="376.03" cy="472.97" r="1.7" fill="white" stroke="#3c3cf0" stroke-width="0.9"/>
<circle cx="385.40" cy="471.35" r="1.7" fill="white" stroke="#3c3cf0" stroke-width="0.9"/>
<circle cx="394.78" cy="471.35" r="1.7" fill="white" stroke="#3c3cf0" stroke-width="0.9"/>
<line x1="456.80" y1="467.50" x2="456.80" y2="568.80" stroke="#555" stroke-width="1"/>
<line x1="456.80" y1="568.80" x2="535.70" y2="568.80" stroke="#555" stroke-width="1"/>
<line x1="455.30" y1="558.67" x2="456.80" y2="558.67" stroke="#555" stroke-width="0.8"/>
<line x1="455.30" y1="548.54" x2="456.80" y2="548.54" stroke="#555" stroke-width="0.8"/>
<line x1="455.30" y1="538.41" x2="456.80" y2="538.41" stroke="#555" stroke-width="0.8"/>
<line x1="455.30" y1="528.28" x2="456.80" y2="528.28" stroke="#555" stroke-width="0.8"/>
<line x1="455.30" y1="508.02" x2="456.80" y2="508.02" stroke="#555" stroke-width="0.8"/>
<line x1="455.30" y1="497.89" x2="456.80" y2="497.89" stroke="#555" stroke-width="0.8"/>
<line x1="455.30" y1="487.76" x2="456.80" y2="487.76" stroke="#555" stroke-width="0.8"/>
<line x1="455.30" y1="477.63" x2="456.80" y2="477.63" stroke="#555" stroke-width="0.8"/>
<line x1="454.00" y1="467.50" x2="456.80" y2="467.50" stroke="#555" stroke-width="1"/>
<text x="451.80" y="470.10" font-size="7.3" text-anchor="end" fill="#222" stroke="#222" stroke-width="0.15">100</text>
<line x1="454.00" y1="518.15" x2="456.80" y2="518.15" stroke="#555" stroke-width="1"/>
<text x="451.80" y="520.75" font-size="7.3" text-anchor="end" fill="#222" stroke="#222" stroke-width="0.15">50</text>
<line x1="454.00" y1="568.80" x2="456.80" y2="568.80" stroke="#555" stroke-width="1"/>
<text x="451.80" y="571.40" font-size="7.3" text-anchor="end" fill="#222" stroke="#222" stroke-width="0.15">0</text>
<line x1="456.80" y1="568.80" x2="456.80" y2="571.30" stroke="#555" stroke-width="1"/>
<text x="457.40" y="581.20" font-size="7.2" text-anchor="middle" fill="#222" stroke="#222" stroke-width="0.15">10<tspan font-size="4.75" dx="0.72" dy="-1.87">1</tspan></text>
<line x1="483.10" y1="568.80" x2="483.10" y2="571.30" stroke="#555" stroke-width="1"/>
<text x="483.70" y="581.20" font-size="7.2" text-anchor="middle" fill="#222" stroke="#222" stroke-width="0.15">10<tspan font-size="4.75" dx="0.72" dy="-1.87">2</tspan></text>
<line x1="509.40" y1="568.80" x2="509.40" y2="571.30" stroke="#555" stroke-width="1"/>
<text x="510.00" y="581.20" font-size="7.2" text-anchor="middle" fill="#222" stroke="#222" stroke-width="0.15">10<tspan font-size="4.75" dx="0.72" dy="-1.87">3</tspan></text>
<line x1="535.70" y1="568.80" x2="535.70" y2="571.30" stroke="#555" stroke-width="1"/>
<text x="536.30" y="581.20" font-size="7.2" text-anchor="middle" fill="#222" stroke="#222" stroke-width="0.15">10<tspan font-size="4.75" dx="0.72" dy="-1.87">4</tspan></text>
<text x="496.25" y="593.80" font-size="8.6" text-anchor="middle" fill="#222" stroke="#222" stroke-width="0.15">nAb (U/ml)</text>
<text x="496.00" y="453.60" font-size="9.8" text-anchor="middle" fill="#222">Omicron(BA.1)-RBD</text>
<text x="418.00" y="453.80" font-size="25" text-anchor="start" fill="#111" font-weight="bold">H</text>
<path d="M474.08,560.29 C475.64,558.11 480.30,552.22 483.42,547.22 C486.53,542.23 489.64,535.66 492.75,530.31 C495.86,524.95 498.98,519.87 502.09,515.11 C505.20,510.35 508.31,506.45 511.43,501.74 C514.54,497.03 517.65,490.70 520.76,486.85 C523.87,483.00 528.54,480.01 530.10,478.64" fill="none" stroke="#f59a3a" stroke-width="1.0" stroke-linejoin="round"/>
<circle cx="474.08" cy="560.29" r="1.7" fill="white" stroke="#f59a3a" stroke-width="0.9"/>
<circle cx="483.42" cy="547.22" r="1.7" fill="white" stroke="#f59a3a" stroke-width="0.9"/>
<circle cx="492.75" cy="530.31" r="1.7" fill="white" stroke="#f59a3a" stroke-width="0.9"/>
<circle cx="502.09" cy="515.11" r="1.7" fill="white" stroke="#f59a3a" stroke-width="0.9"/>
<circle cx="511.43" cy="501.74" r="1.7" fill="white" stroke="#f59a3a" stroke-width="0.9"/>
<circle cx="520.76" cy="486.85" r="1.7" fill="white" stroke="#f59a3a" stroke-width="0.9"/>
<circle cx="530.10" cy="478.64" r="1.7" fill="white" stroke="#f59a3a" stroke-width="0.9"/>
<path d="M483.42,557.05 C484.97,555.02 489.64,548.95 492.75,544.89 C495.86,540.84 498.98,535.59 502.09,532.74 C505.20,529.88 508.31,530.41 511.43,527.77 C514.54,525.14 517.65,519.42 520.76,516.93 C523.87,514.45 528.54,513.56 530.10,512.88" fill="none" stroke="#ee3a3a" stroke-width="1.0" stroke-linejoin="round"/>
<circle cx="483.42" cy="557.05" r="1.7" fill="white" stroke="#ee3a3a" stroke-width="0.9"/>
<circle cx="492.75" cy="544.89" r="1.7" fill="white" stroke="#ee3a3a" stroke-width="0.9"/>
<circle cx="502.09" cy="532.74" r="1.7" fill="white" stroke="#ee3a3a" stroke-width="0.9"/>
<circle cx="511.43" cy="527.77" r="1.7" fill="white" stroke="#ee3a3a" stroke-width="0.9"/>
<circle cx="520.76" cy="516.93" r="1.7" fill="white" stroke="#ee3a3a" stroke-width="0.9"/>
<circle cx="530.10" cy="512.88" r="1.7" fill="white" stroke="#ee3a3a" stroke-width="0.9"/>
<path d="M492.75,562.22 C494.31,560.86 498.98,557.67 502.09,554.11 C505.20,550.55 508.31,546.58 511.43,540.84 C514.54,535.10 517.65,525.92 520.76,519.67 C523.87,513.42 528.54,506.08 530.10,503.36" fill="none" stroke="#3c3cf0" stroke-width="1.0" stroke-linejoin="round"/>
<circle cx="492.75" cy="562.22" r="1.7" fill="white" stroke="#3c3cf0" stroke-width="0.9"/>
<circle cx="502.09" cy="554.11" r="1.7" fill="white" stroke="#3c3cf0" stroke-width="0.9"/>
<circle cx="511.43" cy="540.84" r="1.7" fill="white" stroke="#3c3cf0" stroke-width="0.9"/>
<circle cx="520.76" cy="519.67" r="1.7" fill="white" stroke="#3c3cf0" stroke-width="0.9"/>
<circle cx="530.10" cy="503.36" r="1.7" fill="white" stroke="#3c3cf0" stroke-width="0.9"/>
<path d="M474.08,548.84 C475.64,546.11 480.30,539.17 483.42,532.43 C486.53,525.70 489.64,515.20 492.75,508.43 C495.86,501.65 498.98,496.32 502.09,491.81 C505.20,487.30 508.31,484.11 511.43,481.38 C514.54,478.64 517.65,476.77 520.76,475.40 C523.87,474.03 528.54,473.54 530.10,473.17" fill="none" stroke="#bb4be6" stroke-width="1.0" stroke-linejoin="round"/>
<circle cx="474.08" cy="548.84" r="1.7" fill="white" stroke="#bb4be6" stroke-width="0.9"/>
<circle cx="483.42" cy="532.43" r="1.7" fill="white" stroke="#bb4be6" stroke-width="0.9"/>
<circle cx="492.75" cy="508.43" r="1.7" fill="white" stroke="#bb4be6" stroke-width="0.9"/>
<circle cx="502.09" cy="491.81" r="1.7" fill="white" stroke="#bb4be6" stroke-width="0.9"/>
<circle cx="511.43" cy="481.38" r="1.7" fill="white" stroke="#bb4be6" stroke-width="0.9"/>
<circle cx="520.76" cy="475.40" r="1.7" fill="white" stroke="#bb4be6" stroke-width="0.9"/>
<circle cx="530.10" cy="473.17" r="1.7" fill="white" stroke="#bb4be6" stroke-width="0.9"/>
<path d="M474.08,552.59 C475.64,549.23 480.30,539.79 483.42,532.43 C486.53,525.07 489.64,515.20 492.75,508.43 C495.86,501.65 498.98,496.32 502.09,491.81 C505.20,487.30 508.31,484.11 511.43,481.38 C514.54,478.64 517.65,476.77 520.76,475.40 C523.87,474.03 528.54,473.54 530.10,473.17" fill="none" stroke="#3cc43c" stroke-width="1.0" stroke-linejoin="round"/>
<circle cx="474.08" cy="552.59" r="1.7" fill="white" stroke="#3cc43c" stroke-width="0.9"/>
<circle cx="483.42" cy="532.43" r="1.7" fill="white" stroke="#3cc43c" stroke-width="0.9"/>
<circle cx="492.75" cy="508.43" r="1.7" fill="white" stroke="#3cc43c" stroke-width="0.9"/>
<circle cx="502.09" cy="491.81" r="1.7" fill="white" stroke="#3cc43c" stroke-width="0.9"/>
<circle cx="511.43" cy="481.38" r="1.7" fill="white" stroke="#3cc43c" stroke-width="0.9"/>
<circle cx="520.76" cy="475.40" r="1.7" fill="white" stroke="#3cc43c" stroke-width="0.9"/>
<circle cx="530.10" cy="473.17" r="1.7" fill="white" stroke="#3cc43c" stroke-width="0.9"/>
<path d="M474.4,568.8 L482.6,556.9" fill="none" stroke="#ee3a3a" stroke-width="1"/>
<path d="M488,568.8 L492.9,561.8" fill="none" stroke="#3c3cf0" stroke-width="1"/>
<path d="M473.9,560 L520.6,560 L523,568.8" fill="none" stroke="#333" stroke-width="1.1" stroke-dasharray="1.3,1.6"/>
<circle cx="482.80" cy="561.30" r="2.0" fill="none" stroke="#555" stroke-width="0.9"/>
<circle cx="501.80" cy="558.60" r="2.0" fill="none" stroke="#555" stroke-width="0.9"/>
<circle cx="511.10" cy="557.20" r="2.0" fill="none" stroke="#555" stroke-width="0.9"/>
<circle cx="520.60" cy="560.80" r="2.0" fill="none" stroke="#555" stroke-width="0.9"/>
<text x="27.60" y="518.00" font-size="8.4" text-anchor="middle" fill="#222" transform="rotate(-90 27.6 518)" stroke="#222" stroke-width="0.15">Inhibition (%)</text>
<circle cx="79.00" cy="626.50" r="2.0" fill="none" stroke="#3c3cf0" stroke-width="0.9"/>
<text x="91.5" y="629.70" font-size="9.2" fill="#222">Prime-2-CoV_Beta (3×10<tspan font-size="6.44" dx="0.3" dy="-3.50">7</tspan><tspan dy="3.50"> PFU)</tspan></text>
<circle cx="79.00" cy="640.00" r="2.0" fill="none" stroke="#ee3a3a" stroke-width="0.9"/>
<text x="91.5" y="643.20" font-size="9.2" fill="#222">Prime-2-CoV_Delta (3×10<tspan font-size="6.44" dx="0.3" dy="-3.50">7</tspan><tspan dy="3.50"> PFU)</tspan></text>
<circle cx="79.00" cy="653.50" r="2.0" fill="none" stroke="#3cc43c" stroke-width="0.9"/>
<text x="91.5" y="656.70" font-size="9.2" fill="#222">Prime-2-CoV_Omicron (3×10<tspan font-size="6.44" dx="0.3" dy="-3.50">7</tspan><tspan dy="3.50"> PFU)</tspan></text>
<circle cx="250.60" cy="626.60" r="2.0" fill="none" stroke="#bb4be6" stroke-width="0.9"/>
<text x="263.0" y="629.80" font-size="9.2" fill="#222">Bivalent Prime-2-CoV_Delta+Omicron (1.5×10<tspan font-size="6.44" dx="0.3" dy="-3.50">7</tspan><tspan dy="3.50"> PFU each)</tspan></text>
<circle cx="250.60" cy="639.60" r="2.0" fill="none" stroke="#f59a3a" stroke-width="0.9"/>
<text x="263.0" y="642.80" font-size="9.2" fill="#222">Bivalent Prime-2-CoV_Beta+Omicron (1.5×10<tspan font-size="6.44" dx="0.3" dy="-3.50">7</tspan><tspan dy="3.50"> PFU each)</tspan></text>
<circle cx="250.60" cy="652.60" r="2.0" fill="none" stroke="#555" stroke-width="0.9"/>
<text x="263.0" y="655.80" font-size="9.2" fill="#222">Control antibody (A02087)</text>
</svg>
</body></html>
